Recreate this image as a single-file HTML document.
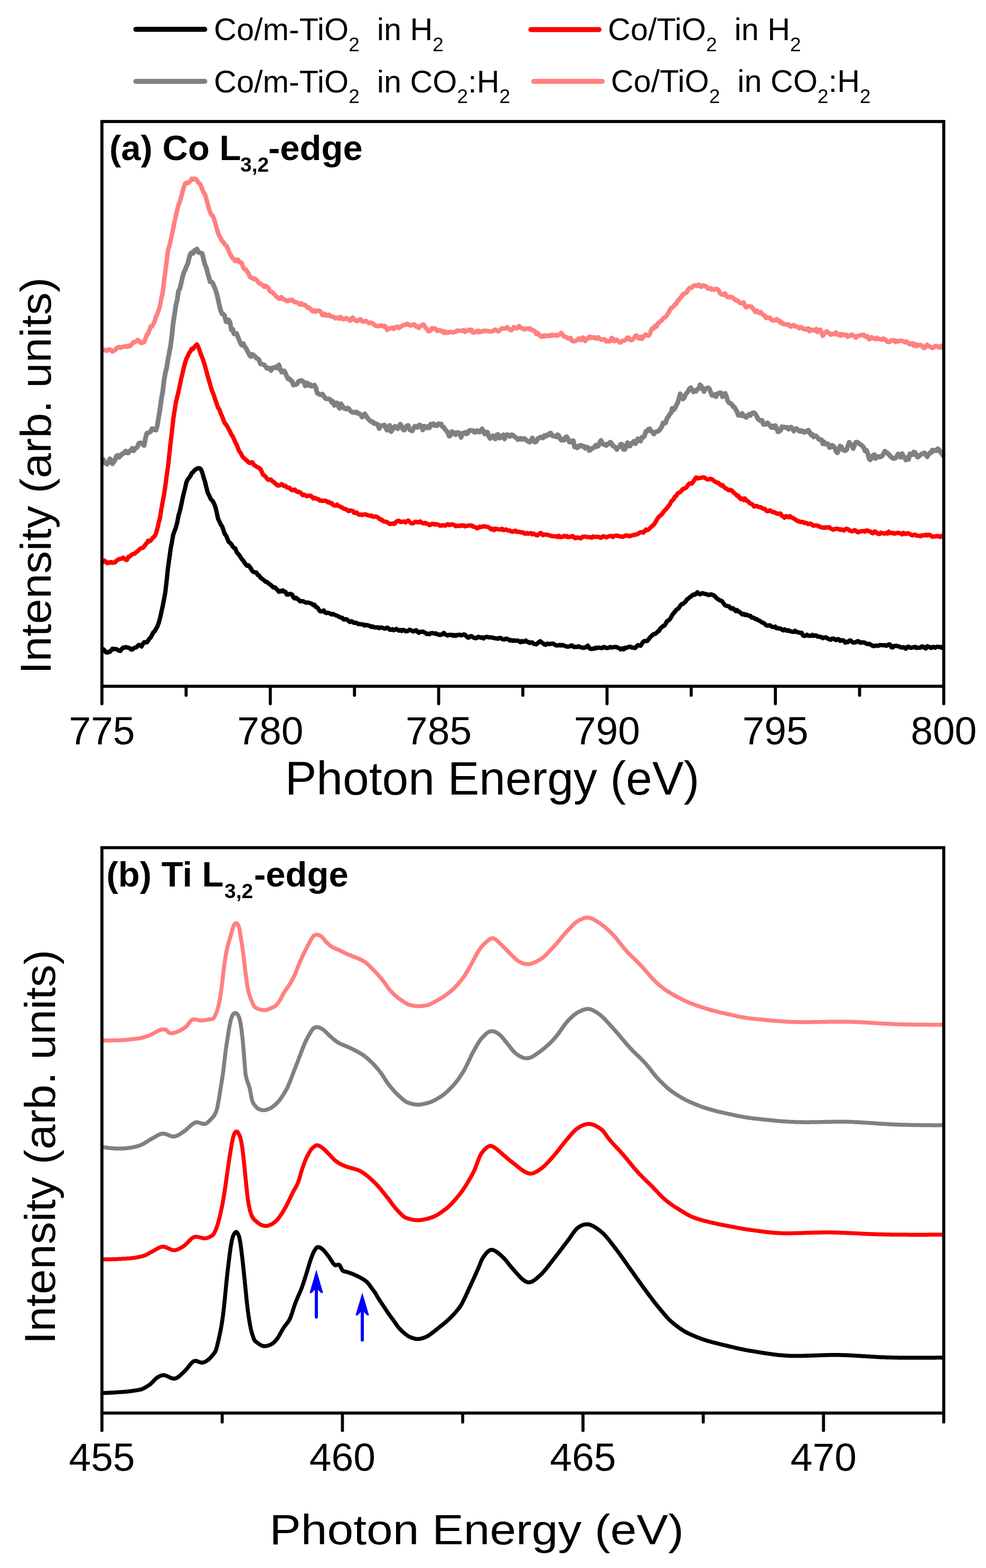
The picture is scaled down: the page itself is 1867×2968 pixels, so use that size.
<!DOCTYPE html>
<html><head><meta charset="utf-8"><title>Co and Ti L-edge XAS spectra</title>
<style>html,body{margin:0;padding:0;background:#fff;} svg{display:block;}</style></head>
<body><svg width="1867" height="2968" viewBox="0 0 1867 2968"><rect x="0" y="0" width="1867" height="2968" fill="#ffffff"/>
<line x1="257.25" y1="55.6" x2="387.75" y2="55.6" stroke="#000000" stroke-width="9.5" stroke-linecap="round"/>
<text x="405" y="76" font-size="59.4" font-family="'Liberation Sans', Arial, sans-serif" xml:space="preserve">Co/m-TiO<tspan font-size="37" dy="20.5">2</tspan><tspan dy="-20.5">  in H</tspan><tspan font-size="37" dy="20.5">2</tspan></text>
<line x1="257.25" y1="154" x2="387.75" y2="154" stroke="#808080" stroke-width="9.5" stroke-linecap="round"/>
<text x="405" y="174.5" font-size="59.4" font-family="'Liberation Sans', Arial, sans-serif" xml:space="preserve">Co/m-TiO<tspan font-size="37" dy="20.5">2</tspan><tspan dy="-20.5">  in CO</tspan><tspan font-size="37" dy="20.5">2</tspan><tspan dy="-20.5">:H</tspan><tspan font-size="37" dy="20.5">2</tspan></text>
<line x1="1005.25" y1="56" x2="1134.25" y2="56" stroke="#ff0000" stroke-width="9.5" stroke-linecap="round"/>
<text x="1151" y="76" font-size="59.4" font-family="'Liberation Sans', Arial, sans-serif" xml:space="preserve">Co/TiO<tspan font-size="37" dy="20.5">2</tspan><tspan dy="-20.5">  in H</tspan><tspan font-size="37" dy="20.5">2</tspan></text>
<line x1="1010.75" y1="154" x2="1140.25" y2="154" stroke="#ff8080" stroke-width="9.5" stroke-linecap="round"/>
<text x="1156.8" y="174" font-size="59.4" font-family="'Liberation Sans', Arial, sans-serif" xml:space="preserve">Co/TiO<tspan font-size="37" dy="20.5">2</tspan><tspan dy="-20.5">  in CO</tspan><tspan font-size="37" dy="20.5">2</tspan><tspan dy="-20.5">:H</tspan><tspan font-size="37" dy="20.5">2</tspan></text>
<path d="M193.0,660.5 L195.5,661.8 L198.0,663.4 L200.5,662.8 L203.0,664.0 L205.5,661.4 L208.0,661.6 L210.5,663.0 L213.0,665.6 L215.5,663.8 L218.0,662.7 L220.5,658.9 L223.0,658.2 L225.5,656.8 L228.0,658.2 L230.5,657.1 L233.0,656.6 L235.5,655.4 L238.0,655.8 L240.5,656.5 L243.0,654.4 L245.5,655.6 L248.0,653.4 L250.5,650.5 L253.0,647.5 L255.5,647.3 L258.0,645.7 L260.5,643.4 L263.0,645.1 L265.5,648.1 L268.0,649.3 L270.5,648.2 L273.0,647.2 L275.5,641.2 L278.0,633.7 L280.5,631.6 L283.0,624.6 L285.5,617.7 L288.0,617.7 L290.5,613.0 L293.0,607.6 L295.5,599.1 L298.0,593.9 L300.5,587.1 L303.0,578.5 L305.5,564.4 L308.0,554.3 L310.5,533.6 L313.0,514.5 L315.5,494.9 L318.0,474.7 L320.5,466.3 L323.0,456.0 L325.5,444.3 L328.0,432.4 L330.5,419.5 L333.0,409.1 L335.5,397.6 L338.0,387.8 L340.5,381.9 L343.0,373.2 L345.5,363.6 L348.0,354.0 L350.5,347.5 L353.0,345.9 L355.5,346.8 L358.0,345.0 L360.5,342.4 L363.0,338.4 L365.5,339.6 L368.0,338.1 L370.5,339.1 L373.0,341.2 L375.5,345.4 L378.0,347.2 L380.5,351.3 L383.0,358.5 L385.5,364.2 L388.0,368.1 L390.5,376.0 L393.0,385.3 L395.5,394.8 L398.0,402.3 L400.5,406.9 L403.0,408.5 L405.5,415.1 L408.0,423.8 L410.5,432.7 L413.0,441.7 L415.5,446.4 L418.0,451.0 L420.5,456.5 L423.0,458.4 L425.5,462.6 L428.0,464.6 L430.5,468.0 L433.0,475.0 L435.5,480.5 L438.0,484.6 L440.5,488.8 L443.0,490.7 L445.5,494.3 L448.0,491.5 L450.5,491.4 L453.0,496.3 L455.5,496.5 L458.0,498.4 L460.5,506.0 L463.0,509.6 L465.5,509.9 L468.0,514.3 L470.5,517.2 L473.0,523.8 L475.5,525.8 L478.0,526.3 L480.5,528.5 L483.0,527.7 L485.5,529.4 L488.0,533.0 L490.5,535.8 L493.0,536.9 L495.5,538.7 L498.0,540.1 L500.5,542.8 L503.0,540.9 L505.5,542.9 L508.0,544.9 L510.5,550.1 L513.0,552.3 L515.5,552.7 L518.0,555.8 L520.5,558.3 L523.0,561.3 L525.5,563.2 L528.0,565.3 L530.5,565.5 L533.0,562.3 L535.5,565.7 L538.0,567.3 L540.5,567.5 L543.0,570.0 L545.5,569.9 L548.0,567.7 L550.5,568.8 L553.0,567.5 L555.5,569.5 L558.0,571.9 L560.5,572.0 L563.0,572.9 L565.5,574.4 L568.0,576.5 L570.5,574.1 L573.0,576.7 L575.5,577.2 L578.0,577.2 L580.5,580.3 L583.0,582.7 L585.5,582.4 L588.0,584.6 L590.5,588.1 L593.0,589.4 L595.5,587.7 L598.0,590.1 L600.5,588.3 L603.0,588.2 L605.5,588.7 L608.0,590.7 L610.5,596.5 L613.0,596.3 L615.5,594.4 L618.0,597.3 L620.5,597.4 L623.0,595.9 L625.5,598.6 L628.0,598.4 L630.5,600.0 L633.0,600.4 L635.5,602.8 L638.0,601.6 L640.5,601.0 L643.0,603.4 L645.5,599.9 L648.0,603.2 L650.5,604.4 L653.0,603.4 L655.5,601.9 L658.0,603.9 L660.5,605.1 L663.0,607.2 L665.5,602.5 L668.0,601.2 L670.5,605.2 L673.0,606.0 L675.5,607.8 L678.0,606.9 L680.5,604.7 L683.0,604.6 L685.5,608.0 L688.0,608.7 L690.5,608.3 L693.0,607.5 L695.5,609.2 L698.0,611.4 L700.5,611.2 L703.0,610.7 L705.5,612.0 L708.0,614.0 L710.5,616.3 L713.0,616.9 L715.5,617.4 L718.0,617.0 L720.5,616.1 L723.0,616.3 L725.5,617.9 L728.0,616.6 L730.5,619.5 L733.0,624.3 L735.5,623.2 L738.0,621.2 L740.5,621.2 L743.0,620.0 L745.5,622.5 L748.0,620.6 L750.5,618.8 L753.0,618.4 L755.5,621.2 L758.0,618.8 L760.5,617.5 L763.0,615.7 L765.5,615.0 L768.0,614.8 L770.5,613.1 L773.0,613.4 L775.5,615.7 L778.0,616.3 L780.5,615.2 L783.0,614.0 L785.5,614.5 L788.0,618.3 L790.5,617.9 L793.0,621.0 L795.5,617.6 L798.0,615.9 L800.5,614.4 L803.0,614.9 L805.5,620.1 L808.0,622.0 L810.5,626.5 L813.0,626.9 L815.5,625.3 L818.0,621.0 L820.5,621.9 L823.0,621.7 L825.5,623.5 L828.0,626.6 L830.5,625.8 L833.0,624.8 L835.5,626.9 L838.0,626.4 L840.5,630.2 L843.0,627.5 L845.5,630.1 L848.0,629.8 L850.5,628.6 L853.0,628.2 L855.5,628.9 L858.0,629.4 L860.5,628.0 L863.0,628.0 L865.5,625.8 L868.0,626.0 L870.5,625.9 L873.0,626.4 L875.5,625.9 L878.0,624.7 L880.5,628.3 L883.0,626.4 L885.5,625.3 L888.0,624.1 L890.5,626.2 L893.0,624.2 L895.5,629.4 L898.0,629.4 L900.5,628.0 L903.0,626.4 L905.5,628.9 L908.0,626.5 L910.5,628.2 L913.0,627.8 L915.5,626.2 L918.0,625.9 L920.5,626.5 L923.0,626.3 L925.5,627.0 L928.0,627.5 L930.5,626.9 L933.0,627.1 L935.5,625.1 L938.0,623.8 L940.5,625.7 L943.0,627.2 L945.5,626.1 L948.0,623.7 L950.5,621.5 L953.0,622.0 L955.5,621.7 L958.0,621.5 L960.5,619.4 L963.0,621.8 L965.5,623.9 L968.0,625.2 L970.5,623.1 L973.0,619.2 L975.5,620.7 L978.0,621.7 L980.5,619.8 L983.0,617.0 L985.5,620.2 L988.0,621.5 L990.5,621.6 L993.0,623.6 L995.5,622.4 L998.0,621.8 L1000.5,622.5 L1003.0,621.6 L1005.5,624.4 L1008.0,624.1 L1010.5,626.2 L1013.0,627.1 L1015.5,632.5 L1018.0,630.2 L1020.5,633.0 L1023.0,636.2 L1025.5,637.3 L1028.0,635.4 L1030.5,637.2 L1033.0,635.1 L1035.5,635.5 L1038.0,636.2 L1040.5,634.7 L1043.0,635.7 L1045.5,633.6 L1048.0,635.1 L1050.5,634.7 L1053.0,633.9 L1055.5,635.5 L1058.0,633.7 L1060.5,632.4 L1063.0,630.3 L1065.5,634.0 L1068.0,637.2 L1070.5,637.3 L1073.0,638.4 L1075.5,640.4 L1078.0,640.7 L1080.5,639.7 L1083.0,645.0 L1085.5,645.9 L1088.0,646.0 L1090.5,644.8 L1093.0,643.6 L1095.5,640.7 L1098.0,642.0 L1100.5,643.6 L1103.0,638.8 L1105.5,640.1 L1108.0,645.6 L1110.5,641.9 L1113.0,641.3 L1115.5,637.6 L1118.0,637.5 L1120.5,639.8 L1123.0,638.8 L1125.5,638.6 L1128.0,641.1 L1130.5,640.8 L1133.0,638.5 L1135.5,641.5 L1138.0,642.7 L1140.5,642.8 L1143.0,642.2 L1145.5,642.2 L1148.0,646.3 L1150.5,645.4 L1153.0,646.4 L1155.5,645.6 L1158.0,639.7 L1160.5,640.9 L1163.0,645.9 L1165.5,643.2 L1168.0,643.0 L1170.5,645.4 L1173.0,648.3 L1175.5,648.0 L1178.0,645.3 L1180.5,645.1 L1183.0,644.3 L1185.5,642.8 L1188.0,639.0 L1190.5,639.4 L1193.0,643.0 L1195.5,644.0 L1198.0,642.2 L1200.5,639.9 L1203.0,635.9 L1205.5,635.2 L1208.0,639.3 L1210.5,640.7 L1213.0,637.5 L1215.5,641.3 L1218.0,638.3 L1220.5,634.7 L1223.0,633.3 L1225.5,634.5 L1228.0,635.5 L1230.5,632.3 L1233.0,625.0 L1235.5,621.1 L1238.0,621.6 L1240.5,617.0 L1243.0,618.3 L1245.5,612.6 L1248.0,610.8 L1250.5,607.9 L1253.0,606.7 L1255.5,603.1 L1258.0,601.2 L1260.5,599.8 L1263.0,596.6 L1265.5,592.6 L1268.0,587.9 L1270.5,583.2 L1273.0,582.2 L1275.5,579.9 L1278.0,575.9 L1280.5,575.4 L1283.0,569.2 L1285.5,568.2 L1288.0,563.6 L1290.5,561.9 L1293.0,557.3 L1295.5,556.1 L1298.0,554.8 L1300.5,553.0 L1303.0,548.3 L1305.5,545.1 L1308.0,544.8 L1310.5,544.1 L1313.0,541.0 L1315.5,540.5 L1318.0,540.2 L1320.5,541.2 L1323.0,538.8 L1325.5,541.6 L1328.0,542.9 L1330.5,540.1 L1333.0,540.5 L1335.5,541.7 L1338.0,542.6 L1340.5,546.3 L1343.0,546.3 L1345.5,545.6 L1348.0,548.2 L1350.5,547.5 L1353.0,548.5 L1355.5,546.8 L1358.0,547.4 L1360.5,548.8 L1363.0,554.6 L1365.5,557.0 L1368.0,556.6 L1370.5,558.1 L1373.0,555.6 L1375.5,560.2 L1378.0,562.4 L1380.5,562.5 L1383.0,561.9 L1385.5,562.6 L1388.0,563.4 L1390.5,566.3 L1393.0,568.4 L1395.5,568.2 L1398.0,570.3 L1400.5,573.3 L1403.0,573.6 L1405.5,574.6 L1408.0,572.5 L1410.5,578.6 L1413.0,581.9 L1415.5,579.9 L1418.0,579.6 L1420.5,580.1 L1423.0,580.4 L1425.5,583.7 L1428.0,587.4 L1430.5,590.6 L1433.0,588.3 L1435.5,590.7 L1438.0,592.6 L1440.5,590.5 L1443.0,594.1 L1445.5,596.3 L1448.0,597.4 L1450.5,601.9 L1453.0,600.7 L1455.5,602.0 L1458.0,601.3 L1460.5,605.2 L1463.0,606.5 L1465.5,606.5 L1468.0,606.3 L1470.5,603.9 L1473.0,607.4 L1475.5,606.5 L1478.0,611.1 L1480.5,610.4 L1483.0,613.5 L1485.5,613.5 L1488.0,613.8 L1490.5,614.4 L1493.0,614.0 L1495.5,617.3 L1498.0,618.4 L1500.5,616.2 L1503.0,615.0 L1505.5,617.8 L1508.0,617.7 L1510.5,619.0 L1513.0,621.1 L1515.5,619.2 L1518.0,619.4 L1520.5,622.5 L1523.0,623.2 L1525.5,622.2 L1528.0,624.0 L1530.5,621.4 L1533.0,626.9 L1535.5,624.0 L1538.0,624.3 L1540.5,625.2 L1543.0,625.8 L1545.5,622.6 L1548.0,628.6 L1550.5,625.8 L1553.0,623.9 L1555.5,629.4 L1558.0,635.9 L1560.5,630.3 L1563.0,629.1 L1565.5,627.2 L1568.0,629.7 L1570.5,630.9 L1573.0,633.5 L1575.5,632.1 L1578.0,632.3 L1580.5,632.6 L1583.0,629.3 L1585.5,632.4 L1588.0,634.5 L1590.5,632.5 L1593.0,635.3 L1595.5,632.9 L1598.0,633.1 L1600.5,634.5 L1603.0,633.8 L1605.5,637.5 L1608.0,635.6 L1610.5,635.0 L1613.0,633.2 L1615.5,635.3 L1618.0,636.3 L1620.5,639.1 L1623.0,636.3 L1625.5,635.7 L1628.0,635.1 L1630.5,634.2 L1633.0,634.3 L1635.5,633.6 L1638.0,637.2 L1640.5,636.2 L1643.0,636.6 L1645.5,642.1 L1648.0,641.0 L1650.5,638.4 L1653.0,640.0 L1655.5,641.0 L1658.0,642.0 L1660.5,639.5 L1663.0,641.4 L1665.5,642.0 L1668.0,642.3 L1670.5,642.9 L1673.0,640.9 L1675.5,642.3 L1678.0,644.5 L1680.5,647.0 L1683.0,647.4 L1685.5,646.7 L1688.0,643.8 L1690.5,644.5 L1693.0,643.9 L1695.5,647.2 L1698.0,645.4 L1700.5,646.5 L1703.0,645.3 L1705.5,645.0 L1708.0,645.5 L1710.5,645.7 L1713.0,647.8 L1715.5,646.5 L1718.0,647.7 L1720.5,650.5 L1723.0,651.8 L1725.5,650.3 L1728.0,649.7 L1730.5,654.5 L1733.0,651.2 L1735.5,655.2 L1738.0,653.6 L1740.5,652.8 L1743.0,652.7 L1745.5,654.7 L1748.0,657.7 L1750.5,658.9 L1753.0,655.0 L1755.5,652.4 L1758.0,655.6 L1760.5,655.6 L1763.0,657.0 L1765.5,658.8 L1768.0,657.8 L1770.5,655.2 L1773.0,655.3 L1775.5,655.9 L1778.0,657.9 L1780.5,655.6 L1783.0,654.4 L1785.0,658.3 L1787.0,660.2" fill="none" stroke="#ff8080" stroke-width="8.5" stroke-linejoin="round" stroke-linecap="butt"/>
<path d="M193.0,872.4 L195.5,869.6 L198.0,875.4 L200.5,877.3 L203.0,878.6 L205.5,874.5 L208.0,868.4 L210.5,870.7 L213.0,877.9 L215.5,874.6 L218.0,870.3 L220.5,863.4 L223.0,861.9 L225.5,865.5 L228.0,863.1 L230.5,859.5 L233.0,858.9 L235.5,856.5 L238.0,853.7 L240.5,857.2 L243.0,857.3 L245.5,853.8 L248.0,852.6 L250.5,848.4 L253.0,853.3 L255.5,849.5 L258.0,848.3 L260.5,845.4 L263.0,838.7 L265.5,838.4 L268.0,838.4 L270.5,841.5 L273.0,843.4 L275.5,829.1 L278.0,820.2 L280.5,819.5 L283.0,818.2 L285.5,816.5 L288.0,811.1 L290.5,812.4 L293.0,813.5 L295.5,814.1 L298.0,805.1 L300.5,789.1 L303.0,774.1 L305.5,755.7 L308.0,742.4 L310.5,720.2 L313.0,706.0 L315.5,696.5 L318.0,681.1 L320.5,667.8 L323.0,654.7 L325.5,635.1 L328.0,610.4 L330.5,595.3 L333.0,577.9 L335.5,568.2 L338.0,550.5 L340.5,546.4 L343.0,536.0 L345.5,525.1 L348.0,516.0 L350.5,510.9 L353.0,504.4 L355.5,499.4 L358.0,488.9 L360.5,480.5 L363.0,478.2 L365.5,479.7 L368.0,473.9 L370.5,475.6 L373.0,471.2 L375.5,477.3 L378.0,478.6 L380.5,478.8 L383.0,480.0 L385.5,491.1 L388.0,500.8 L390.5,505.7 L393.0,516.2 L395.5,524.9 L398.0,533.4 L400.5,533.3 L403.0,536.2 L405.5,542.4 L408.0,548.2 L410.5,556.4 L413.0,567.0 L415.5,578.4 L418.0,588.3 L420.5,594.4 L423.0,594.5 L425.5,598.4 L428.0,608.8 L430.5,609.5 L433.0,605.5 L435.5,609.9 L438.0,624.3 L440.5,622.8 L443.0,632.0 L445.5,631.4 L448.0,631.4 L450.5,637.7 L453.0,643.9 L455.5,649.9 L458.0,653.6 L460.5,650.2 L463.0,655.0 L465.5,658.9 L468.0,663.2 L470.5,668.4 L473.0,673.0 L475.5,675.0 L478.0,670.7 L480.5,672.4 L483.0,674.7 L485.5,678.1 L488.0,678.8 L490.5,681.3 L493.0,688.7 L495.5,688.9 L498.0,690.0 L500.5,690.8 L503.0,693.9 L505.5,697.3 L508.0,697.1 L510.5,696.8 L513.0,701.5 L515.5,696.5 L518.0,695.8 L520.5,696.3 L523.0,694.0 L525.5,696.7 L528.0,690.6 L530.5,698.3 L533.0,704.2 L535.5,703.8 L538.0,701.9 L540.5,706.3 L543.0,712.4 L545.5,717.3 L548.0,716.9 L550.5,720.5 L553.0,721.4 L555.5,729.0 L558.0,727.9 L560.5,727.9 L563.0,726.3 L565.5,721.4 L568.0,721.3 L570.5,720.0 L573.0,721.6 L575.5,723.5 L578.0,730.4 L580.5,724.9 L583.0,725.7 L585.5,730.1 L588.0,728.2 L590.5,731.1 L593.0,729.9 L595.5,728.8 L598.0,733.8 L600.5,744.0 L603.0,745.3 L605.5,746.9 L608.0,747.3 L610.5,746.0 L613.0,749.6 L615.5,753.3 L618.0,755.0 L620.5,754.9 L623.0,755.1 L625.5,756.4 L628.0,761.6 L630.5,759.6 L633.0,767.3 L635.5,765.0 L638.0,762.6 L640.5,768.5 L643.0,773.1 L645.5,764.1 L648.0,767.9 L650.5,772.1 L653.0,773.4 L655.5,774.4 L658.0,772.3 L660.5,773.5 L663.0,777.0 L665.5,779.1 L668.0,780.5 L670.5,780.2 L673.0,781.2 L675.5,779.8 L678.0,782.7 L680.5,783.0 L683.0,785.1 L685.5,789.5 L688.0,787.0 L690.5,783.2 L693.0,786.7 L695.5,790.8 L698.0,793.6 L700.5,796.3 L703.0,798.1 L705.5,798.2 L708.0,801.8 L710.5,801.2 L713.0,802.8 L715.5,803.6 L718.0,811.3 L720.5,806.3 L723.0,805.6 L725.5,805.1 L728.0,804.6 L730.5,810.4 L733.0,814.5 L735.5,807.7 L738.0,805.3 L740.5,817.0 L743.0,813.4 L745.5,808.8 L748.0,806.9 L750.5,809.6 L753.0,811.6 L755.5,806.7 L758.0,803.0 L760.5,807.0 L763.0,813.0 L765.5,814.2 L768.0,808.8 L770.5,806.0 L773.0,805.5 L775.5,813.4 L778.0,814.6 L780.5,815.6 L783.0,810.9 L785.5,806.8 L788.0,808.0 L790.5,809.0 L793.0,804.9 L795.5,804.5 L798.0,807.3 L800.5,813.8 L803.0,806.7 L805.5,807.3 L808.0,809.8 L810.5,807.6 L813.0,810.1 L815.5,802.7 L818.0,804.8 L820.5,801.9 L823.0,805.4 L825.5,804.1 L828.0,805.6 L830.5,801.9 L833.0,803.2 L835.5,802.5 L838.0,808.0 L840.5,808.8 L843.0,813.1 L845.5,815.7 L848.0,819.4 L850.5,825.6 L853.0,824.5 L855.5,817.0 L858.0,818.1 L860.5,819.2 L863.0,823.0 L865.5,818.8 L868.0,819.2 L870.5,819.8 L873.0,827.9 L875.5,820.7 L878.0,819.8 L880.5,818.3 L883.0,821.3 L885.5,820.1 L888.0,815.4 L890.5,814.7 L893.0,815.0 L895.5,815.1 L898.0,817.9 L900.5,818.1 L903.0,815.3 L905.5,817.2 L908.0,817.8 L910.5,814.3 L913.0,811.8 L915.5,817.7 L918.0,821.6 L920.5,817.8 L923.0,818.2 L925.5,825.6 L928.0,830.0 L930.5,828.5 L933.0,824.7 L935.5,826.8 L938.0,831.0 L940.5,823.6 L943.0,822.3 L945.5,829.2 L948.0,828.5 L950.5,826.0 L953.0,823.0 L955.5,830.9 L958.0,823.6 L960.5,822.5 L963.0,824.6 L965.5,826.0 L968.0,823.0 L970.5,823.2 L973.0,825.5 L975.5,827.8 L978.0,828.8 L980.5,832.1 L983.0,831.2 L985.5,829.5 L988.0,831.7 L990.5,830.7 L993.0,830.1 L995.5,832.5 L998.0,834.2 L1000.5,835.8 L1003.0,836.9 L1005.5,834.4 L1008.0,828.9 L1010.5,835.5 L1013.0,837.0 L1015.5,835.9 L1018.0,830.6 L1020.5,829.7 L1023.0,827.5 L1025.5,827.5 L1028.0,829.1 L1030.5,824.8 L1033.0,826.1 L1035.5,823.1 L1038.0,823.8 L1040.5,820.5 L1043.0,819.8 L1045.5,824.4 L1048.0,825.6 L1050.5,825.4 L1053.0,827.1 L1055.5,822.7 L1058.0,824.5 L1060.5,830.5 L1063.0,833.3 L1065.5,831.3 L1068.0,833.4 L1070.5,828.0 L1073.0,826.5 L1075.5,831.0 L1078.0,836.6 L1080.5,836.8 L1083.0,834.5 L1085.5,834.3 L1088.0,846.2 L1090.5,844.1 L1093.0,847.7 L1095.5,845.7 L1098.0,842.9 L1100.5,843.0 L1103.0,844.9 L1105.5,844.6 L1108.0,848.6 L1110.5,846.3 L1113.0,846.8 L1115.5,852.8 L1118.0,852.0 L1120.5,848.7 L1123.0,847.7 L1125.5,846.9 L1128.0,842.5 L1130.5,845.3 L1133.0,844.1 L1135.5,837.7 L1138.0,833.6 L1140.5,838.6 L1143.0,841.4 L1145.5,841.2 L1148.0,843.4 L1150.5,840.3 L1153.0,840.2 L1155.5,836.9 L1158.0,839.2 L1160.5,844.2 L1163.0,844.9 L1165.5,846.9 L1168.0,851.0 L1170.5,846.9 L1173.0,845.6 L1175.5,840.7 L1178.0,841.4 L1180.5,850.6 L1183.0,850.7 L1185.5,846.2 L1188.0,837.9 L1190.5,840.8 L1193.0,844.4 L1195.5,839.3 L1198.0,837.7 L1200.5,835.0 L1203.0,840.0 L1205.5,835.9 L1208.0,830.3 L1210.5,833.4 L1213.0,835.0 L1215.5,827.8 L1218.0,827.6 L1220.5,824.9 L1223.0,816.5 L1225.5,816.3 L1228.0,812.2 L1230.5,811.8 L1233.0,816.2 L1235.5,817.5 L1238.0,821.6 L1240.5,818.2 L1243.0,817.0 L1245.5,816.4 L1248.0,815.1 L1250.5,811.2 L1253.0,808.1 L1255.5,800.6 L1258.0,801.3 L1260.5,800.2 L1263.0,791.7 L1265.5,788.8 L1268.0,784.3 L1270.5,781.7 L1273.0,772.7 L1275.5,775.9 L1278.0,772.8 L1280.5,767.3 L1283.0,762.8 L1285.5,754.9 L1288.0,745.3 L1290.5,752.1 L1293.0,755.3 L1295.5,753.1 L1298.0,747.1 L1300.5,743.4 L1303.0,740.6 L1305.5,735.7 L1308.0,733.8 L1310.5,737.9 L1313.0,741.8 L1315.5,739.1 L1318.0,740.5 L1320.5,736.7 L1323.0,735.8 L1325.5,728.3 L1328.0,731.1 L1330.5,736.4 L1333.0,741.3 L1335.5,735.6 L1338.0,735.1 L1340.5,734.0 L1343.0,735.7 L1345.5,741.8 L1348.0,748.2 L1350.5,748.4 L1353.0,747.0 L1355.5,750.9 L1358.0,745.3 L1360.5,744.8 L1363.0,743.4 L1365.5,743.7 L1368.0,751.1 L1370.5,748.1 L1373.0,744.6 L1375.5,750.4 L1378.0,759.1 L1380.5,762.4 L1383.0,763.6 L1385.5,764.9 L1388.0,769.5 L1390.5,770.4 L1393.0,774.9 L1395.5,779.2 L1398.0,786.2 L1400.5,784.8 L1403.0,786.5 L1405.5,782.5 L1408.0,787.6 L1410.5,787.3 L1413.0,790.3 L1415.5,787.2 L1418.0,784.2 L1420.5,786.5 L1423.0,782.9 L1425.5,781.5 L1428.0,781.5 L1430.5,784.0 L1433.0,788.2 L1435.5,793.1 L1438.0,795.0 L1440.5,796.6 L1443.0,795.6 L1445.5,803.2 L1448.0,802.8 L1450.5,803.0 L1453.0,800.2 L1455.5,802.9 L1458.0,805.7 L1460.5,809.3 L1463.0,806.2 L1465.5,809.7 L1468.0,805.5 L1470.5,810.3 L1473.0,817.5 L1475.5,816.4 L1478.0,814.4 L1480.5,807.6 L1483.0,809.1 L1485.5,808.4 L1488.0,809.5 L1490.5,808.8 L1493.0,812.6 L1495.5,809.9 L1498.0,808.3 L1500.5,810.9 L1503.0,816.0 L1505.5,813.1 L1508.0,811.1 L1510.5,813.2 L1513.0,815.8 L1515.5,816.6 L1518.0,814.9 L1520.5,817.3 L1523.0,818.4 L1525.5,816.3 L1528.0,817.0 L1530.5,814.2 L1533.0,817.9 L1535.5,823.0 L1538.0,821.9 L1540.5,826.9 L1543.0,824.8 L1545.5,825.4 L1548.0,828.2 L1550.5,831.5 L1553.0,832.0 L1555.5,832.2 L1558.0,840.1 L1560.5,836.5 L1563.0,840.7 L1565.5,839.7 L1568.0,840.1 L1570.5,847.1 L1573.0,846.7 L1575.5,842.9 L1578.0,844.4 L1580.5,847.2 L1583.0,854.2 L1585.5,857.3 L1588.0,852.4 L1590.5,844.3 L1593.0,845.7 L1595.5,850.7 L1598.0,852.5 L1600.5,853.2 L1603.0,851.4 L1605.5,843.8 L1608.0,837.2 L1610.5,840.5 L1613.0,842.7 L1615.5,849.2 L1618.0,842.6 L1620.5,837.0 L1623.0,837.1 L1625.5,838.2 L1628.0,841.0 L1630.5,842.0 L1633.0,844.1 L1635.5,847.2 L1638.0,853.7 L1640.5,852.4 L1643.0,857.8 L1645.5,868.1 L1648.0,870.4 L1650.5,866.8 L1653.0,862.1 L1655.5,860.6 L1658.0,867.9 L1660.5,864.2 L1663.0,863.9 L1665.5,865.2 L1668.0,864.4 L1670.5,862.8 L1673.0,859.1 L1675.5,854.0 L1678.0,856.1 L1680.5,857.8 L1683.0,860.0 L1685.5,863.3 L1688.0,865.2 L1690.5,867.6 L1693.0,867.9 L1695.5,867.0 L1698.0,864.1 L1700.5,859.3 L1703.0,863.5 L1705.5,865.6 L1708.0,858.5 L1710.5,863.2 L1713.0,866.8 L1715.5,870.8 L1718.0,865.9 L1720.5,869.5 L1723.0,858.9 L1725.5,859.2 L1728.0,860.4 L1730.5,855.4 L1733.0,856.7 L1735.5,863.1 L1738.0,865.3 L1740.5,862.8 L1743.0,861.2 L1745.5,859.0 L1748.0,859.1 L1750.5,857.2 L1753.0,860.5 L1755.5,864.7 L1758.0,860.4 L1760.5,857.5 L1763.0,857.0 L1765.5,851.8 L1768.0,853.6 L1770.5,852.3 L1773.0,853.1 L1775.5,849.3 L1778.0,851.2 L1780.5,855.3 L1783.0,858.7 L1785.0,860.7 L1787.0,864.8" fill="none" stroke="#808080" stroke-width="9.0" stroke-linejoin="round" stroke-linecap="butt"/>
<path d="M193.0,1065.7 L195.5,1062.9 L198.0,1061.2 L200.5,1063.3 L203.0,1066.1 L205.5,1064.4 L208.0,1065.4 L210.5,1063.8 L213.0,1065.3 L215.5,1064.5 L218.0,1064.7 L220.5,1061.2 L223.0,1059.9 L225.5,1058.0 L228.0,1058.0 L230.5,1057.4 L233.0,1055.4 L235.5,1057.4 L238.0,1059.7 L240.5,1059.8 L243.0,1054.1 L245.5,1053.5 L248.0,1051.1 L250.5,1049.2 L253.0,1048.6 L255.5,1047.6 L258.0,1045.1 L260.5,1043.4 L263.0,1040.9 L265.5,1038.5 L268.0,1037.5 L270.5,1037.0 L273.0,1034.2 L275.5,1030.4 L278.0,1028.2 L280.5,1023.5 L283.0,1024.8 L285.5,1023.1 L288.0,1019.8 L290.5,1016.7 L293.0,1014.7 L295.5,1009.2 L298.0,1000.6 L300.5,989.6 L303.0,979.9 L305.5,963.7 L308.0,949.9 L310.5,936.7 L313.0,920.5 L315.5,901.2 L318.0,884.0 L320.5,861.3 L323.0,838.2 L325.5,817.4 L328.0,793.8 L330.5,777.9 L333.0,761.8 L335.5,751.4 L338.0,741.2 L340.5,729.3 L343.0,717.2 L345.5,707.3 L348.0,695.8 L350.5,686.6 L353.0,679.0 L355.5,674.3 L358.0,668.4 L360.5,664.9 L363.0,660.2 L365.5,660.9 L368.0,656.9 L370.5,654.1 L373.0,651.9 L375.5,657.0 L378.0,663.9 L380.5,671.2 L383.0,677.0 L385.5,684.3 L388.0,692.3 L390.5,701.6 L393.0,710.3 L395.5,719.4 L398.0,728.2 L400.5,736.9 L403.0,743.2 L405.5,749.8 L408.0,757.8 L410.5,764.8 L413.0,772.0 L415.5,774.9 L418.0,782.9 L420.5,788.0 L423.0,794.9 L425.5,800.8 L428.0,803.7 L430.5,807.3 L433.0,812.2 L435.5,816.7 L438.0,822.7 L440.5,825.7 L443.0,831.1 L445.5,836.9 L448.0,841.6 L450.5,848.0 L453.0,854.1 L455.5,857.0 L458.0,862.3 L460.5,865.8 L463.0,868.0 L465.5,870.3 L468.0,872.1 L470.5,875.0 L473.0,876.5 L475.5,875.1 L478.0,875.0 L480.5,879.9 L483.0,881.3 L485.5,883.2 L488.0,884.3 L490.5,885.9 L493.0,887.7 L495.5,892.7 L498.0,898.8 L500.5,900.3 L503.0,902.3 L505.5,906.1 L508.0,908.2 L510.5,907.7 L513.0,907.7 L515.5,910.9 L518.0,911.9 L520.5,914.7 L523.0,916.3 L525.5,919.0 L528.0,918.9 L530.5,918.4 L533.0,916.3 L535.5,918.1 L538.0,920.0 L540.5,919.4 L543.0,922.6 L545.5,923.1 L548.0,923.0 L550.5,926.2 L553.0,927.9 L555.5,927.4 L558.0,926.6 L560.5,929.4 L563.0,931.1 L565.5,930.9 L568.0,931.8 L570.5,934.1 L573.0,937.3 L575.5,936.4 L578.0,937.4 L580.5,939.3 L583.0,938.5 L585.5,938.4 L588.0,938.0 L590.5,940.3 L593.0,943.6 L595.5,942.2 L598.0,943.6 L600.5,944.2 L603.0,945.0 L605.5,947.6 L608.0,947.2 L610.5,948.1 L613.0,948.0 L615.5,947.5 L618.0,948.5 L620.5,950.8 L623.0,950.2 L625.5,952.6 L628.0,952.1 L630.5,955.5 L633.0,956.9 L635.5,956.8 L638.0,955.1 L640.5,957.8 L643.0,958.2 L645.5,960.0 L648.0,960.7 L650.5,962.9 L653.0,963.6 L655.5,964.1 L658.0,966.2 L660.5,967.5 L663.0,965.9 L665.5,966.7 L668.0,967.0 L670.5,970.9 L673.0,970.7 L675.5,970.0 L678.0,973.4 L680.5,974.3 L683.0,973.8 L685.5,974.8 L688.0,973.9 L690.5,973.5 L693.0,973.9 L695.5,975.2 L698.0,975.5 L700.5,976.4 L703.0,975.8 L705.5,977.7 L708.0,978.4 L710.5,977.6 L713.0,978.0 L715.5,979.6 L718.0,981.5 L720.5,983.6 L723.0,983.7 L725.5,986.6 L728.0,987.0 L730.5,987.7 L733.0,988.2 L735.5,990.2 L738.0,991.9 L740.5,991.5 L743.0,990.7 L745.5,991.8 L748.0,990.7 L750.5,987.3 L753.0,986.0 L755.5,985.7 L758.0,988.1 L760.5,987.9 L763.0,987.5 L765.5,987.1 L768.0,988.9 L770.5,986.6 L773.0,985.3 L775.5,987.8 L778.0,990.1 L780.5,990.7 L783.0,990.3 L785.5,987.9 L788.0,987.6 L790.5,988.8 L793.0,988.4 L795.5,987.0 L798.0,989.0 L800.5,990.3 L803.0,990.6 L805.5,989.6 L808.0,991.7 L810.5,991.6 L813.0,994.0 L815.5,993.3 L818.0,991.4 L820.5,991.8 L823.0,993.1 L825.5,992.0 L828.0,992.6 L830.5,993.4 L833.0,995.0 L835.5,995.0 L838.0,994.0 L840.5,994.4 L843.0,995.0 L845.5,993.5 L848.0,992.1 L850.5,993.8 L853.0,993.4 L855.5,992.4 L858.0,992.9 L860.5,994.0 L863.0,996.1 L865.5,995.1 L868.0,995.2 L870.5,995.9 L873.0,994.2 L875.5,995.2 L878.0,994.3 L880.5,996.3 L883.0,995.8 L885.5,995.2 L888.0,994.6 L890.5,994.5 L893.0,994.7 L895.5,996.7 L898.0,996.9 L900.5,998.1 L903.0,1000.0 L905.5,999.3 L908.0,996.9 L910.5,997.7 L913.0,997.0 L915.5,996.1 L918.0,996.7 L920.5,996.8 L923.0,997.0 L925.5,998.4 L928.0,1000.0 L930.5,1002.3 L933.0,1001.0 L935.5,1003.4 L938.0,1000.6 L940.5,1001.1 L943.0,1001.9 L945.5,1002.2 L948.0,1002.5 L950.5,1000.7 L953.0,1003.4 L955.5,1003.0 L958.0,1002.2 L960.5,1003.4 L963.0,1004.5 L965.5,1004.2 L968.0,1006.1 L970.5,1006.6 L973.0,1005.6 L975.5,1004.5 L978.0,1006.6 L980.5,1006.4 L983.0,1006.7 L985.5,1007.4 L988.0,1007.9 L990.5,1007.7 L993.0,1010.0 L995.5,1010.3 L998.0,1008.8 L1000.5,1010.3 L1003.0,1009.7 L1005.5,1009.1 L1008.0,1011.4 L1010.5,1010.1 L1013.0,1011.6 L1015.5,1013.1 L1018.0,1013.4 L1020.5,1011.1 L1023.0,1008.8 L1025.5,1009.7 L1028.0,1013.0 L1030.5,1012.0 L1033.0,1011.7 L1035.5,1012.1 L1038.0,1012.8 L1040.5,1013.3 L1043.0,1014.1 L1045.5,1015.3 L1048.0,1014.8 L1050.5,1015.3 L1053.0,1015.1 L1055.5,1016.4 L1058.0,1014.2 L1060.5,1016.7 L1063.0,1016.4 L1065.5,1016.0 L1068.0,1014.3 L1070.5,1015.6 L1073.0,1014.7 L1075.5,1016.8 L1078.0,1016.2 L1080.5,1016.2 L1083.0,1014.7 L1085.5,1015.3 L1088.0,1018.4 L1090.5,1018.6 L1093.0,1017.1 L1095.5,1018.0 L1098.0,1018.7 L1100.5,1018.9 L1103.0,1015.9 L1105.5,1015.8 L1108.0,1015.5 L1110.5,1016.4 L1113.0,1016.3 L1115.5,1017.0 L1118.0,1017.0 L1120.5,1017.8 L1123.0,1015.3 L1125.5,1016.1 L1128.0,1016.5 L1130.5,1016.0 L1133.0,1016.0 L1135.5,1017.3 L1138.0,1018.0 L1140.5,1016.1 L1143.0,1015.0 L1145.5,1016.2 L1148.0,1017.2 L1150.5,1016.0 L1153.0,1014.9 L1155.5,1014.9 L1158.0,1014.4 L1160.5,1016.5 L1163.0,1014.6 L1165.5,1013.8 L1168.0,1013.8 L1170.5,1014.5 L1173.0,1015.2 L1175.5,1015.3 L1178.0,1015.9 L1180.5,1015.8 L1183.0,1014.3 L1185.5,1013.2 L1188.0,1014.4 L1190.5,1014.1 L1193.0,1015.1 L1195.5,1013.9 L1198.0,1012.8 L1200.5,1013.0 L1203.0,1012.1 L1205.5,1011.4 L1208.0,1010.7 L1210.5,1008.6 L1213.0,1007.5 L1215.5,1007.0 L1218.0,1008.3 L1220.5,1005.8 L1223.0,1002.3 L1225.5,1003.7 L1228.0,1002.3 L1230.5,1000.0 L1233.0,997.2 L1235.5,995.3 L1238.0,993.0 L1240.5,989.6 L1243.0,985.2 L1245.5,980.6 L1248.0,978.0 L1250.5,975.6 L1253.0,973.8 L1255.5,970.1 L1258.0,966.9 L1260.5,964.5 L1263.0,961.5 L1265.5,958.3 L1268.0,955.2 L1270.5,950.0 L1273.0,947.2 L1275.5,944.7 L1278.0,940.0 L1280.5,938.8 L1283.0,934.2 L1285.5,932.6 L1288.0,931.5 L1290.5,928.9 L1293.0,925.5 L1295.5,925.0 L1298.0,924.0 L1300.5,921.6 L1303.0,917.6 L1305.5,915.1 L1308.0,915.5 L1310.5,915.0 L1313.0,911.2 L1315.5,907.1 L1318.0,903.8 L1320.5,905.7 L1323.0,905.1 L1325.5,904.8 L1328.0,904.4 L1330.5,903.6 L1333.0,903.6 L1335.5,905.0 L1338.0,906.7 L1340.5,907.7 L1343.0,907.0 L1345.5,906.2 L1348.0,907.2 L1350.5,908.9 L1353.0,911.4 L1355.5,912.2 L1358.0,914.0 L1360.5,913.8 L1363.0,917.1 L1365.5,919.0 L1368.0,918.2 L1370.5,921.5 L1373.0,923.6 L1375.5,925.2 L1378.0,926.8 L1380.5,928.2 L1383.0,927.4 L1385.5,928.3 L1388.0,931.2 L1390.5,933.3 L1393.0,935.4 L1395.5,938.6 L1398.0,938.4 L1400.5,942.6 L1403.0,944.9 L1405.5,943.4 L1408.0,946.3 L1410.5,943.6 L1413.0,947.7 L1415.5,948.1 L1418.0,950.6 L1420.5,953.2 L1423.0,953.7 L1425.5,955.8 L1428.0,958.9 L1430.5,958.0 L1433.0,957.6 L1435.5,959.3 L1438.0,959.8 L1440.5,960.0 L1443.0,962.0 L1445.5,962.7 L1448.0,963.0 L1450.5,966.2 L1453.0,967.7 L1455.5,967.2 L1458.0,965.8 L1460.5,967.9 L1463.0,969.3 L1465.5,969.2 L1468.0,970.3 L1470.5,972.0 L1473.0,972.7 L1475.5,972.0 L1478.0,972.2 L1480.5,976.3 L1483.0,977.8 L1485.5,980.0 L1488.0,977.1 L1490.5,977.3 L1493.0,979.0 L1495.5,977.0 L1498.0,979.4 L1500.5,979.9 L1503.0,981.3 L1505.5,983.3 L1508.0,984.5 L1510.5,986.6 L1513.0,986.6 L1515.5,988.2 L1518.0,987.8 L1520.5,988.0 L1523.0,989.9 L1525.5,989.5 L1528.0,990.7 L1530.5,992.2 L1533.0,991.2 L1535.5,991.3 L1538.0,993.6 L1540.5,995.2 L1543.0,994.5 L1545.5,994.5 L1548.0,994.8 L1550.5,996.6 L1553.0,996.9 L1555.5,998.5 L1558.0,998.6 L1560.5,999.1 L1563.0,998.1 L1565.5,998.9 L1568.0,998.1 L1570.5,998.2 L1573.0,1000.3 L1575.5,1001.7 L1578.0,1002.6 L1580.5,1001.6 L1583.0,1000.5 L1585.5,1001.2 L1588.0,1001.3 L1590.5,1002.8 L1593.0,1001.9 L1595.5,1002.8 L1598.0,1004.2 L1600.5,1001.8 L1603.0,1000.8 L1605.5,1001.7 L1608.0,1004.1 L1610.5,1004.6 L1613.0,1005.6 L1615.5,1005.3 L1618.0,1003.4 L1620.5,1004.3 L1623.0,1006.8 L1625.5,1007.6 L1628.0,1006.0 L1630.5,1005.8 L1633.0,1005.0 L1635.5,1005.4 L1638.0,1006.3 L1640.5,1004.0 L1643.0,1004.4 L1645.5,1005.5 L1648.0,1006.0 L1650.5,1008.5 L1653.0,1009.5 L1655.5,1006.2 L1658.0,1006.3 L1660.5,1009.5 L1663.0,1010.2 L1665.5,1010.8 L1668.0,1008.1 L1670.5,1009.3 L1673.0,1009.8 L1675.5,1009.9 L1678.0,1008.9 L1680.5,1010.0 L1683.0,1006.3 L1685.5,1008.8 L1688.0,1008.8 L1690.5,1008.6 L1693.0,1010.2 L1695.5,1009.5 L1698.0,1008.8 L1700.5,1008.7 L1703.0,1008.9 L1705.5,1010.0 L1708.0,1011.5 L1710.5,1008.6 L1713.0,1010.5 L1715.5,1010.7 L1718.0,1009.4 L1720.5,1009.6 L1723.0,1011.1 L1725.5,1012.4 L1728.0,1013.4 L1730.5,1012.5 L1733.0,1011.9 L1735.5,1013.8 L1738.0,1014.0 L1740.5,1014.2 L1743.0,1015.1 L1745.5,1013.4 L1748.0,1013.4 L1750.5,1013.3 L1753.0,1012.1 L1755.5,1013.5 L1758.0,1012.1 L1760.5,1012.8 L1763.0,1014.0 L1765.5,1016.1 L1768.0,1015.4 L1770.5,1015.4 L1773.0,1014.8 L1775.5,1014.6 L1778.0,1015.4 L1780.5,1016.4 L1783.0,1014.3 L1785.0,1014.0 L1787.0,1015.4" fill="none" stroke="#ff0000" stroke-width="8.2" stroke-linejoin="round" stroke-linecap="butt"/>
<path d="M193.0,1227.5 L195.5,1229.0 L198.0,1231.0 L200.5,1234.7 L203.0,1235.3 L205.5,1233.9 L208.0,1233.8 L210.5,1230.8 L213.0,1227.8 L215.5,1228.8 L218.0,1228.4 L220.5,1228.7 L223.0,1230.3 L225.5,1231.7 L228.0,1232.1 L230.5,1228.3 L233.0,1225.8 L235.5,1226.0 L238.0,1224.8 L240.5,1225.5 L243.0,1226.0 L245.5,1226.8 L248.0,1229.4 L250.5,1229.5 L253.0,1226.9 L255.5,1226.1 L258.0,1225.5 L260.5,1222.9 L263.0,1220.8 L265.5,1221.3 L268.0,1223.6 L270.5,1219.1 L273.0,1215.5 L275.5,1215.7 L278.0,1216.0 L280.5,1212.6 L283.0,1208.8 L285.5,1206.3 L288.0,1201.5 L290.5,1196.8 L293.0,1194.8 L295.5,1190.0 L298.0,1185.8 L300.5,1179.1 L303.0,1170.0 L305.5,1159.0 L308.0,1147.6 L310.5,1134.7 L313.0,1120.9 L315.5,1099.8 L318.0,1075.4 L320.5,1057.8 L323.0,1039.6 L325.5,1026.3 L328.0,1012.1 L330.5,1005.3 L333.0,998.4 L335.5,989.1 L338.0,976.2 L340.5,967.6 L343.0,956.7 L345.5,944.4 L348.0,933.5 L350.5,923.7 L353.0,912.8 L355.5,907.4 L358.0,904.2 L360.5,901.0 L363.0,895.6 L365.5,893.8 L368.0,890.6 L370.5,888.7 L373.0,887.0 L375.5,886.3 L378.0,886.4 L380.5,888.6 L383.0,894.3 L385.5,903.6 L388.0,911.3 L390.5,921.4 L393.0,931.6 L395.5,936.7 L398.0,942.5 L400.5,946.4 L403.0,948.8 L405.5,953.7 L408.0,960.0 L410.5,970.6 L413.0,982.3 L415.5,986.9 L418.0,992.8 L420.5,996.6 L423.0,1003.0 L425.5,1010.7 L428.0,1013.6 L430.5,1019.5 L433.0,1025.7 L435.5,1027.5 L438.0,1029.9 L440.5,1034.3 L443.0,1037.0 L445.5,1037.8 L448.0,1045.0 L450.5,1047.8 L453.0,1050.7 L455.5,1054.7 L458.0,1058.6 L460.5,1060.9 L463.0,1065.1 L465.5,1068.5 L468.0,1071.1 L470.5,1070.0 L473.0,1073.0 L475.5,1077.0 L478.0,1081.1 L480.5,1083.0 L483.0,1083.3 L485.5,1083.5 L488.0,1088.3 L490.5,1089.2 L493.0,1093.2 L495.5,1094.8 L498.0,1096.9 L500.5,1098.9 L503.0,1101.2 L505.5,1101.7 L508.0,1103.8 L510.5,1105.9 L513.0,1107.5 L515.5,1109.9 L518.0,1112.1 L520.5,1111.7 L523.0,1114.3 L525.5,1116.9 L528.0,1120.1 L530.5,1118.3 L533.0,1119.4 L535.5,1117.5 L538.0,1120.0 L540.5,1120.2 L543.0,1125.5 L545.5,1125.7 L548.0,1124.2 L550.5,1124.4 L553.0,1125.3 L555.5,1130.8 L558.0,1132.7 L560.5,1131.5 L563.0,1133.5 L565.5,1135.2 L568.0,1138.1 L570.5,1138.1 L573.0,1137.8 L575.5,1138.8 L578.0,1140.4 L580.5,1140.7 L583.0,1140.4 L585.5,1141.1 L588.0,1142.0 L590.5,1142.9 L593.0,1145.3 L595.5,1144.6 L598.0,1148.9 L600.5,1149.7 L603.0,1152.7 L605.5,1156.6 L608.0,1157.5 L610.5,1157.1 L613.0,1155.5 L615.5,1159.2 L618.0,1160.5 L620.5,1159.8 L623.0,1160.5 L625.5,1161.5 L628.0,1163.1 L630.5,1162.2 L633.0,1163.4 L635.5,1164.6 L638.0,1165.3 L640.5,1166.6 L643.0,1168.1 L645.5,1169.0 L648.0,1169.3 L650.5,1172.6 L653.0,1172.6 L655.5,1172.0 L658.0,1173.3 L660.5,1175.9 L663.0,1177.4 L665.5,1175.8 L668.0,1177.3 L670.5,1179.0 L673.0,1178.6 L675.5,1179.3 L678.0,1181.1 L680.5,1181.1 L683.0,1181.5 L685.5,1181.8 L688.0,1182.0 L690.5,1184.0 L693.0,1183.0 L695.5,1183.4 L698.0,1184.1 L700.5,1184.8 L703.0,1186.7 L705.5,1185.7 L708.0,1187.3 L710.5,1187.6 L713.0,1187.6 L715.5,1187.3 L718.0,1189.0 L720.5,1187.8 L723.0,1187.9 L725.5,1188.8 L728.0,1189.9 L730.5,1189.5 L733.0,1188.0 L735.5,1189.2 L738.0,1192.1 L740.5,1192.1 L743.0,1191.0 L745.5,1192.9 L748.0,1191.6 L750.5,1190.5 L753.0,1192.6 L755.5,1193.7 L758.0,1192.3 L760.5,1194.4 L763.0,1192.4 L765.5,1192.9 L768.0,1194.8 L770.5,1194.8 L773.0,1193.9 L775.5,1191.9 L778.0,1193.0 L780.5,1194.4 L783.0,1195.3 L785.5,1193.7 L788.0,1193.0 L790.5,1195.6 L793.0,1197.8 L795.5,1195.9 L798.0,1196.0 L800.5,1195.4 L803.0,1196.7 L805.5,1197.9 L808.0,1200.1 L810.5,1199.5 L813.0,1200.5 L815.5,1198.6 L818.0,1198.3 L820.5,1198.6 L823.0,1199.5 L825.5,1198.8 L828.0,1200.6 L830.5,1200.9 L833.0,1201.9 L835.5,1201.3 L838.0,1200.0 L840.5,1198.0 L843.0,1200.9 L845.5,1201.9 L848.0,1202.8 L850.5,1201.6 L853.0,1202.1 L855.5,1201.5 L858.0,1203.3 L860.5,1202.0 L863.0,1203.6 L865.5,1201.8 L868.0,1201.9 L870.5,1201.4 L873.0,1202.7 L875.5,1202.0 L878.0,1200.9 L880.5,1201.2 L883.0,1204.4 L885.5,1206.6 L888.0,1206.9 L890.5,1204.5 L893.0,1204.1 L895.5,1206.2 L898.0,1207.4 L900.5,1208.2 L903.0,1207.3 L905.5,1205.3 L908.0,1206.1 L910.5,1207.1 L913.0,1206.3 L915.5,1208.5 L918.0,1206.6 L920.5,1205.5 L923.0,1205.5 L925.5,1206.5 L928.0,1206.5 L930.5,1206.6 L933.0,1207.1 L935.5,1207.7 L938.0,1208.3 L940.5,1208.4 L943.0,1209.0 L945.5,1207.7 L948.0,1207.6 L950.5,1209.5 L953.0,1210.2 L955.5,1210.3 L958.0,1208.8 L960.5,1209.5 L963.0,1210.3 L965.5,1212.5 L968.0,1211.7 L970.5,1212.9 L973.0,1212.0 L975.5,1212.9 L978.0,1212.6 L980.5,1212.5 L983.0,1213.8 L985.5,1215.5 L988.0,1213.5 L990.5,1215.0 L993.0,1214.0 L995.5,1212.4 L998.0,1215.1 L1000.5,1215.0 L1003.0,1217.1 L1005.5,1216.2 L1008.0,1216.2 L1010.5,1218.7 L1013.0,1219.3 L1015.5,1219.6 L1018.0,1217.5 L1020.5,1215.3 L1023.0,1213.8 L1025.5,1215.9 L1028.0,1217.5 L1030.5,1219.7 L1033.0,1220.6 L1035.5,1218.4 L1038.0,1218.8 L1040.5,1219.3 L1043.0,1218.6 L1045.5,1218.2 L1048.0,1218.5 L1050.5,1220.3 L1053.0,1221.7 L1055.5,1221.7 L1058.0,1221.7 L1060.5,1220.6 L1063.0,1221.8 L1065.5,1220.9 L1068.0,1222.0 L1070.5,1222.9 L1073.0,1223.8 L1075.5,1223.9 L1078.0,1223.6 L1080.5,1222.3 L1083.0,1221.6 L1085.5,1224.2 L1088.0,1224.8 L1090.5,1224.3 L1093.0,1224.6 L1095.5,1223.4 L1098.0,1224.7 L1100.5,1225.2 L1103.0,1226.3 L1105.5,1225.8 L1108.0,1225.7 L1110.5,1223.8 L1113.0,1222.1 L1115.5,1226.3 L1118.0,1228.2 L1120.5,1228.4 L1123.0,1227.6 L1125.5,1227.9 L1128.0,1226.1 L1130.5,1226.6 L1133.0,1225.8 L1135.5,1226.0 L1138.0,1226.6 L1140.5,1226.6 L1143.0,1224.6 L1145.5,1225.3 L1148.0,1226.6 L1150.5,1226.5 L1153.0,1225.8 L1155.5,1224.7 L1158.0,1225.6 L1160.5,1225.3 L1163.0,1224.8 L1165.5,1224.6 L1168.0,1225.1 L1170.5,1226.6 L1173.0,1227.3 L1175.5,1229.2 L1178.0,1227.5 L1180.5,1229.2 L1183.0,1226.2 L1185.5,1226.8 L1188.0,1225.3 L1190.5,1224.6 L1193.0,1223.9 L1195.5,1225.6 L1198.0,1225.7 L1200.5,1226.3 L1203.0,1226.5 L1205.5,1223.2 L1208.0,1221.2 L1210.5,1221.7 L1213.0,1222.4 L1215.5,1218.3 L1218.0,1214.7 L1220.5,1213.4 L1223.0,1213.3 L1225.5,1213.3 L1228.0,1210.5 L1230.5,1206.9 L1233.0,1204.5 L1235.5,1201.9 L1238.0,1200.2 L1240.5,1199.8 L1243.0,1198.0 L1245.5,1195.4 L1248.0,1194.1 L1250.5,1189.6 L1253.0,1187.3 L1255.5,1185.0 L1258.0,1184.4 L1260.5,1180.5 L1263.0,1175.7 L1265.5,1174.5 L1268.0,1172.6 L1270.5,1168.6 L1273.0,1164.0 L1275.5,1160.5 L1278.0,1158.0 L1280.5,1154.5 L1283.0,1152.8 L1285.5,1150.7 L1288.0,1146.7 L1290.5,1143.6 L1293.0,1143.3 L1295.5,1141.0 L1298.0,1139.1 L1300.5,1134.9 L1303.0,1133.3 L1305.5,1130.9 L1308.0,1129.3 L1310.5,1127.1 L1313.0,1125.3 L1315.5,1125.8 L1318.0,1123.9 L1320.5,1121.0 L1323.0,1123.8 L1325.5,1125.0 L1328.0,1123.4 L1330.5,1122.7 L1333.0,1123.7 L1335.5,1124.4 L1338.0,1124.5 L1340.5,1126.2 L1343.0,1126.2 L1345.5,1125.1 L1348.0,1125.4 L1350.5,1126.5 L1353.0,1127.7 L1355.5,1130.9 L1358.0,1133.1 L1360.5,1134.7 L1363.0,1136.4 L1365.5,1137.0 L1368.0,1139.0 L1370.5,1142.7 L1373.0,1145.9 L1375.5,1146.7 L1378.0,1147.3 L1380.5,1147.6 L1383.0,1150.9 L1385.5,1152.4 L1388.0,1151.2 L1390.5,1154.2 L1393.0,1156.7 L1395.5,1154.7 L1398.0,1157.5 L1400.5,1158.3 L1403.0,1160.7 L1405.5,1163.1 L1408.0,1162.0 L1410.5,1164.2 L1413.0,1163.2 L1415.5,1164.6 L1418.0,1165.4 L1420.5,1165.5 L1423.0,1169.0 L1425.5,1169.1 L1428.0,1169.7 L1430.5,1172.0 L1433.0,1172.2 L1435.5,1174.0 L1438.0,1175.0 L1440.5,1176.4 L1443.0,1178.4 L1445.5,1178.9 L1448.0,1180.9 L1450.5,1183.4 L1453.0,1184.3 L1455.5,1183.8 L1458.0,1183.6 L1460.5,1185.6 L1463.0,1187.0 L1465.5,1187.0 L1468.0,1186.0 L1470.5,1189.2 L1473.0,1189.1 L1475.5,1189.7 L1478.0,1189.8 L1480.5,1191.8 L1483.0,1193.2 L1485.5,1191.3 L1488.0,1193.0 L1490.5,1194.0 L1493.0,1192.8 L1495.5,1194.9 L1498.0,1195.2 L1500.5,1195.7 L1503.0,1196.1 L1505.5,1194.0 L1508.0,1196.3 L1510.5,1196.4 L1513.0,1197.5 L1515.5,1197.7 L1518.0,1197.8 L1520.5,1202.9 L1523.0,1203.7 L1525.5,1203.2 L1528.0,1201.4 L1530.5,1203.3 L1533.0,1203.5 L1535.5,1203.5 L1538.0,1201.8 L1540.5,1203.7 L1543.0,1202.9 L1545.5,1202.9 L1548.0,1205.0 L1550.5,1204.7 L1553.0,1205.9 L1555.5,1205.8 L1558.0,1208.0 L1560.5,1206.9 L1563.0,1206.4 L1565.5,1207.4 L1568.0,1209.1 L1570.5,1210.2 L1573.0,1211.0 L1575.5,1208.8 L1578.0,1208.6 L1580.5,1210.2 L1583.0,1211.6 L1585.5,1209.9 L1588.0,1209.8 L1590.5,1213.1 L1593.0,1212.1 L1595.5,1211.9 L1598.0,1212.7 L1600.5,1216.5 L1603.0,1215.1 L1605.5,1215.5 L1608.0,1212.6 L1610.5,1212.3 L1613.0,1214.4 L1615.5,1216.3 L1618.0,1216.2 L1620.5,1215.7 L1623.0,1214.0 L1625.5,1213.6 L1628.0,1216.2 L1630.5,1216.6 L1633.0,1215.7 L1635.5,1216.1 L1638.0,1216.7 L1640.5,1218.3 L1643.0,1219.1 L1645.5,1218.7 L1648.0,1219.8 L1650.5,1221.3 L1653.0,1222.9 L1655.5,1222.9 L1658.0,1222.0 L1660.5,1222.1 L1663.0,1222.5 L1665.5,1221.2 L1668.0,1221.1 L1670.5,1221.2 L1673.0,1221.5 L1675.5,1221.0 L1678.0,1222.5 L1680.5,1221.5 L1683.0,1219.7 L1685.5,1220.0 L1688.0,1225.2 L1690.5,1225.5 L1693.0,1222.6 L1695.5,1222.6 L1698.0,1222.4 L1700.5,1223.5 L1703.0,1223.6 L1705.5,1225.5 L1708.0,1225.6 L1710.5,1224.8 L1713.0,1226.4 L1715.5,1227.8 L1718.0,1224.5 L1720.5,1224.1 L1723.0,1225.8 L1725.5,1226.1 L1728.0,1225.4 L1730.5,1225.2 L1733.0,1224.4 L1735.5,1226.5 L1738.0,1226.0 L1740.5,1226.0 L1743.0,1226.0 L1745.5,1223.6 L1748.0,1224.0 L1750.5,1226.1 L1753.0,1227.5 L1755.5,1223.3 L1758.0,1224.0 L1760.5,1224.9 L1763.0,1226.3 L1765.5,1224.9 L1768.0,1224.5 L1770.5,1226.1 L1773.0,1224.6 L1775.5,1224.3 L1778.0,1224.5 L1780.5,1224.9 L1783.0,1226.1 L1785.0,1224.0 L1787.0,1223.4" fill="none" stroke="#000000" stroke-width="8.2" stroke-linejoin="round" stroke-linecap="butt"/>
<rect x="193" y="230" width="1594" height="1069" fill="none" stroke="#000" stroke-width="5.8"/>
<line x1="193.0" y1="1299" x2="193.0" y2="1332" stroke="#000" stroke-width="5.8" stroke-linecap="round"/>
<text x="193.0" y="1409" font-size="75" text-anchor="middle" font-family="'Liberation Sans', Arial, sans-serif">775</text>
<line x1="352.4" y1="1299" x2="352.4" y2="1316" stroke="#000" stroke-width="5.8" stroke-linecap="round"/>
<line x1="511.8" y1="1299" x2="511.8" y2="1332" stroke="#000" stroke-width="5.8" stroke-linecap="round"/>
<text x="511.8" y="1409" font-size="75" text-anchor="middle" font-family="'Liberation Sans', Arial, sans-serif">780</text>
<line x1="671.2" y1="1299" x2="671.2" y2="1316" stroke="#000" stroke-width="5.8" stroke-linecap="round"/>
<line x1="830.6" y1="1299" x2="830.6" y2="1332" stroke="#000" stroke-width="5.8" stroke-linecap="round"/>
<text x="830.6" y="1409" font-size="75" text-anchor="middle" font-family="'Liberation Sans', Arial, sans-serif">785</text>
<line x1="990.0" y1="1299" x2="990.0" y2="1316" stroke="#000" stroke-width="5.8" stroke-linecap="round"/>
<line x1="1149.4" y1="1299" x2="1149.4" y2="1332" stroke="#000" stroke-width="5.8" stroke-linecap="round"/>
<text x="1149.4" y="1409" font-size="75" text-anchor="middle" font-family="'Liberation Sans', Arial, sans-serif">790</text>
<line x1="1308.8" y1="1299" x2="1308.8" y2="1316" stroke="#000" stroke-width="5.8" stroke-linecap="round"/>
<line x1="1468.2" y1="1299" x2="1468.2" y2="1332" stroke="#000" stroke-width="5.8" stroke-linecap="round"/>
<text x="1468.2" y="1409" font-size="75" text-anchor="middle" font-family="'Liberation Sans', Arial, sans-serif">795</text>
<line x1="1627.6" y1="1299" x2="1627.6" y2="1316" stroke="#000" stroke-width="5.8" stroke-linecap="round"/>
<line x1="1787.0" y1="1299" x2="1787.0" y2="1332" stroke="#000" stroke-width="5.8" stroke-linecap="round"/>
<text x="1787.0" y="1409" font-size="75" text-anchor="middle" font-family="'Liberation Sans', Arial, sans-serif">800</text>
<path d="M193.0,1969.3 L195.0,1969.3 L197.0,1969.4 L199.0,1969.4 L201.0,1969.4 L203.0,1969.4 L205.0,1969.4 L207.0,1969.4 L209.0,1969.4 L211.0,1969.3 L213.0,1969.3 L215.0,1969.3 L217.0,1969.2 L219.0,1969.2 L221.0,1969.1 L223.0,1969.0 L225.0,1969.0 L227.0,1968.9 L229.0,1968.8 L231.0,1968.8 L233.0,1968.7 L235.0,1968.6 L237.0,1968.5 L239.0,1968.3 L241.0,1968.2 L243.0,1968.0 L245.0,1967.8 L247.0,1967.5 L249.0,1967.3 L251.0,1967.1 L253.0,1966.8 L255.0,1966.5 L257.0,1966.2 L259.0,1966.0 L261.0,1965.7 L263.0,1965.4 L265.0,1965.1 L267.0,1964.7 L269.0,1964.3 L271.0,1963.7 L273.0,1963.2 L275.0,1962.6 L277.0,1961.9 L279.0,1961.2 L281.0,1960.5 L283.0,1959.8 L285.0,1959.0 L287.0,1958.0 L289.0,1957.0 L291.0,1955.9 L293.0,1954.7 L295.0,1953.6 L297.0,1952.5 L299.0,1951.4 L301.0,1950.4 L303.0,1949.6 L305.0,1948.9 L307.0,1948.5 L309.0,1948.4 L311.0,1948.6 L313.0,1948.9 L315.0,1949.6 L317.0,1951.6 L319.0,1954.0 L321.0,1955.4 L323.0,1955.7 L325.0,1955.7 L327.0,1955.6 L329.0,1955.2 L331.0,1954.7 L333.0,1954.0 L335.0,1953.3 L337.0,1952.5 L339.0,1951.6 L341.0,1950.6 L343.0,1949.5 L345.0,1948.3 L347.0,1947.0 L349.0,1945.7 L351.0,1944.2 L353.0,1942.5 L355.0,1940.2 L357.0,1937.7 L359.0,1935.1 L361.0,1932.7 L363.0,1930.9 L365.0,1929.8 L367.0,1929.5 L369.0,1929.6 L371.0,1929.9 L373.0,1930.4 L375.0,1930.9 L377.0,1931.3 L379.0,1931.6 L381.0,1931.8 L383.0,1931.7 L385.0,1931.4 L387.0,1931.1 L389.0,1930.8 L391.0,1930.5 L393.0,1930.1 L395.0,1929.8 L397.0,1929.5 L399.0,1929.2 L401.0,1929.0 L403.0,1928.7 L405.0,1926.8 L407.0,1923.0 L409.0,1918.5 L411.0,1913.6 L413.0,1906.7 L415.0,1898.4 L417.0,1887.8 L419.0,1874.0 L421.0,1857.9 L423.0,1840.6 L425.0,1824.1 L427.0,1810.8 L429.0,1800.2 L431.0,1791.6 L433.0,1784.0 L435.0,1776.9 L437.0,1770.2 L439.0,1763.6 L441.0,1756.4 L443.0,1751.0 L445.0,1748.3 L447.0,1747.2 L449.0,1747.8 L451.0,1751.0 L453.0,1756.6 L455.0,1768.5 L457.0,1781.4 L459.0,1793.5 L461.0,1807.9 L463.0,1825.5 L465.0,1842.5 L467.0,1857.3 L469.0,1870.0 L471.0,1878.5 L473.0,1885.6 L475.0,1891.2 L477.0,1895.9 L479.0,1900.5 L481.0,1904.3 L483.0,1906.6 L485.0,1907.7 L487.0,1908.8 L489.0,1909.7 L491.0,1910.4 L493.0,1911.0 L495.0,1911.4 L497.0,1911.7 L499.0,1912.0 L501.0,1912.1 L503.0,1912.0 L505.0,1911.6 L507.0,1910.9 L509.0,1910.1 L511.0,1909.2 L513.0,1908.3 L515.0,1907.4 L517.0,1906.6 L519.0,1905.7 L521.0,1904.4 L523.0,1902.7 L525.0,1900.5 L527.0,1897.9 L529.0,1895.1 L531.0,1891.9 L533.0,1888.1 L535.0,1884.0 L537.0,1880.2 L539.0,1876.9 L541.0,1873.9 L543.0,1871.1 L545.0,1868.3 L547.0,1865.4 L549.0,1862.3 L551.0,1858.9 L553.0,1855.4 L555.0,1851.6 L557.0,1847.7 L559.0,1843.4 L561.0,1838.4 L563.0,1833.1 L565.0,1827.9 L567.0,1823.2 L569.0,1818.5 L571.0,1814.0 L573.0,1809.7 L575.0,1805.4 L577.0,1801.4 L579.0,1797.4 L581.0,1793.5 L583.0,1789.6 L585.0,1785.7 L587.0,1781.9 L589.0,1778.4 L591.0,1775.4 L593.0,1772.6 L595.0,1770.6 L597.0,1769.6 L599.0,1769.1 L601.0,1769.2 L603.0,1769.8 L605.0,1770.6 L607.0,1771.7 L609.0,1773.0 L611.0,1775.0 L613.0,1777.3 L615.0,1779.9 L617.0,1782.3 L619.0,1784.4 L621.0,1786.2 L623.0,1788.0 L625.0,1789.7 L627.0,1791.3 L629.0,1792.6 L631.0,1793.8 L633.0,1794.7 L635.0,1795.4 L637.0,1796.2 L639.0,1797.0 L641.0,1797.9 L643.0,1798.9 L645.0,1799.9 L647.0,1800.9 L649.0,1801.9 L651.0,1803.0 L653.0,1804.0 L655.0,1804.9 L657.0,1805.8 L659.0,1806.7 L661.0,1807.5 L663.0,1808.3 L665.0,1809.1 L667.0,1809.9 L669.0,1810.6 L671.0,1811.4 L673.0,1812.1 L675.0,1812.9 L677.0,1813.7 L679.0,1814.6 L681.0,1815.5 L683.0,1816.4 L685.0,1817.4 L687.0,1818.5 L689.0,1819.7 L691.0,1821.0 L693.0,1822.5 L695.0,1824.2 L697.0,1825.9 L699.0,1827.8 L701.0,1829.7 L703.0,1831.7 L705.0,1833.7 L707.0,1835.8 L709.0,1837.8 L711.0,1839.9 L713.0,1842.0 L715.0,1844.2 L717.0,1846.5 L719.0,1848.8 L721.0,1851.2 L723.0,1853.7 L725.0,1856.2 L727.0,1858.7 L729.0,1861.5 L731.0,1864.3 L733.0,1867.2 L735.0,1870.0 L737.0,1872.6 L739.0,1875.0 L741.0,1877.2 L743.0,1879.2 L745.0,1881.2 L747.0,1883.1 L749.0,1884.9 L751.0,1886.6 L753.0,1888.2 L755.0,1889.8 L757.0,1891.3 L759.0,1892.6 L761.0,1894.0 L763.0,1895.4 L765.0,1896.7 L767.0,1898.0 L769.0,1899.2 L771.0,1900.3 L773.0,1901.2 L775.0,1901.9 L777.0,1902.4 L779.0,1902.9 L781.0,1903.3 L783.0,1903.7 L785.0,1904.0 L787.0,1904.2 L789.0,1904.4 L791.0,1904.4 L793.0,1904.4 L795.0,1904.4 L797.0,1904.3 L799.0,1904.1 L801.0,1904.0 L803.0,1903.7 L805.0,1903.4 L807.0,1903.1 L809.0,1902.6 L811.0,1902.0 L813.0,1901.3 L815.0,1900.4 L817.0,1899.5 L819.0,1898.5 L821.0,1897.5 L823.0,1896.4 L825.0,1895.3 L827.0,1894.2 L829.0,1893.1 L831.0,1892.0 L833.0,1890.9 L835.0,1889.7 L837.0,1888.4 L839.0,1887.1 L841.0,1885.8 L843.0,1884.3 L845.0,1882.9 L847.0,1881.4 L849.0,1879.8 L851.0,1878.2 L853.0,1876.6 L855.0,1875.0 L857.0,1873.2 L859.0,1871.4 L861.0,1869.4 L863.0,1867.3 L865.0,1865.1 L867.0,1862.9 L869.0,1860.6 L871.0,1858.1 L873.0,1855.7 L875.0,1853.1 L877.0,1850.5 L879.0,1847.8 L881.0,1844.8 L883.0,1841.5 L885.0,1838.2 L887.0,1834.7 L889.0,1831.1 L891.0,1827.6 L893.0,1824.0 L895.0,1820.3 L897.0,1816.4 L899.0,1812.5 L901.0,1808.7 L903.0,1805.0 L905.0,1801.7 L907.0,1798.6 L909.0,1795.8 L911.0,1793.2 L913.0,1790.7 L915.0,1788.5 L917.0,1786.5 L919.0,1784.7 L921.0,1782.9 L923.0,1781.1 L925.0,1779.4 L927.0,1777.9 L929.0,1776.8 L931.0,1776.1 L933.0,1775.9 L935.0,1776.4 L937.0,1777.4 L939.0,1778.7 L941.0,1780.4 L943.0,1782.2 L945.0,1784.2 L947.0,1786.1 L949.0,1788.0 L951.0,1789.8 L953.0,1791.8 L955.0,1793.8 L957.0,1795.8 L959.0,1797.9 L961.0,1800.0 L963.0,1802.0 L965.0,1804.0 L967.0,1806.0 L969.0,1807.8 L971.0,1809.8 L973.0,1811.8 L975.0,1813.7 L977.0,1815.6 L979.0,1817.4 L981.0,1819.0 L983.0,1820.3 L985.0,1821.4 L987.0,1822.3 L989.0,1823.1 L991.0,1823.8 L993.0,1824.3 L995.0,1824.7 L997.0,1825.0 L999.0,1825.1 L1001.0,1825.0 L1003.0,1824.7 L1005.0,1824.3 L1007.0,1823.7 L1009.0,1823.1 L1011.0,1822.3 L1013.0,1821.4 L1015.0,1820.5 L1017.0,1819.4 L1019.0,1818.3 L1021.0,1817.2 L1023.0,1816.0 L1025.0,1814.7 L1027.0,1813.2 L1029.0,1811.6 L1031.0,1809.8 L1033.0,1808.0 L1035.0,1806.0 L1037.0,1804.0 L1039.0,1801.9 L1041.0,1799.8 L1043.0,1797.6 L1045.0,1795.5 L1047.0,1793.3 L1049.0,1791.2 L1051.0,1789.1 L1053.0,1786.9 L1055.0,1784.6 L1057.0,1782.2 L1059.0,1779.8 L1061.0,1777.4 L1063.0,1775.0 L1065.0,1772.6 L1067.0,1770.2 L1069.0,1767.9 L1071.0,1765.6 L1073.0,1763.4 L1075.0,1761.2 L1077.0,1759.1 L1079.0,1757.0 L1081.0,1754.9 L1083.0,1752.8 L1085.0,1750.8 L1087.0,1748.9 L1089.0,1747.1 L1091.0,1745.5 L1093.0,1744.1 L1095.0,1742.9 L1097.0,1741.8 L1099.0,1740.7 L1101.0,1739.8 L1103.0,1738.9 L1105.0,1738.1 L1107.0,1737.5 L1109.0,1737.1 L1111.0,1736.9 L1113.0,1736.8 L1115.0,1737.1 L1117.0,1737.5 L1119.0,1738.2 L1121.0,1739.0 L1123.0,1739.9 L1125.0,1741.0 L1127.0,1742.1 L1129.0,1743.3 L1131.0,1744.6 L1133.0,1745.8 L1135.0,1747.1 L1137.0,1748.4 L1139.0,1749.9 L1141.0,1751.4 L1143.0,1752.9 L1145.0,1754.6 L1147.0,1756.3 L1149.0,1758.1 L1151.0,1759.9 L1153.0,1761.8 L1155.0,1763.7 L1157.0,1765.6 L1159.0,1767.6 L1161.0,1769.6 L1163.0,1771.8 L1165.0,1774.0 L1167.0,1776.4 L1169.0,1778.9 L1171.0,1781.4 L1173.0,1783.9 L1175.0,1786.5 L1177.0,1789.0 L1179.0,1791.5 L1181.0,1794.0 L1183.0,1796.4 L1185.0,1798.7 L1187.0,1801.0 L1189.0,1803.1 L1191.0,1805.2 L1193.0,1807.2 L1195.0,1809.2 L1197.0,1811.1 L1199.0,1813.1 L1201.0,1815.0 L1203.0,1816.9 L1205.0,1818.9 L1207.0,1820.8 L1209.0,1822.8 L1211.0,1824.8 L1213.0,1826.9 L1215.0,1829.0 L1217.0,1831.2 L1219.0,1833.4 L1221.0,1835.7 L1223.0,1838.0 L1225.0,1840.3 L1227.0,1842.6 L1229.0,1844.9 L1231.0,1847.2 L1233.0,1849.5 L1235.0,1851.7 L1237.0,1853.9 L1239.0,1856.0 L1241.0,1858.0 L1243.0,1860.0 L1245.0,1861.8 L1247.0,1863.6 L1249.0,1865.3 L1251.0,1866.9 L1253.0,1868.5 L1255.0,1870.0 L1257.0,1871.5 L1259.0,1872.9 L1261.0,1874.3 L1263.0,1875.7 L1265.0,1877.0 L1267.0,1878.2 L1269.0,1879.4 L1271.0,1880.6 L1273.0,1881.8 L1275.0,1882.9 L1277.0,1884.0 L1279.0,1885.1 L1281.0,1886.2 L1283.0,1887.3 L1285.0,1888.4 L1287.0,1889.4 L1289.0,1890.5 L1291.0,1891.5 L1293.0,1892.5 L1295.0,1893.5 L1297.0,1894.4 L1299.0,1895.3 L1301.0,1896.2 L1303.0,1897.0 L1305.0,1897.9 L1307.0,1898.7 L1309.0,1899.4 L1311.0,1900.2 L1313.0,1901.0 L1315.0,1901.7 L1317.0,1902.4 L1319.0,1903.2 L1321.0,1903.9 L1323.0,1904.6 L1325.0,1905.3 L1327.0,1905.9 L1329.0,1906.6 L1331.0,1907.2 L1333.0,1907.9 L1335.0,1908.5 L1337.0,1909.1 L1339.0,1909.7 L1341.0,1910.3 L1343.0,1910.8 L1345.0,1911.4 L1347.0,1912.0 L1349.0,1912.5 L1351.0,1913.1 L1353.0,1913.6 L1355.0,1914.1 L1357.0,1914.7 L1359.0,1915.2 L1361.0,1915.7 L1363.0,1916.2 L1365.0,1916.6 L1367.0,1917.1 L1369.0,1917.5 L1371.0,1918.0 L1373.0,1918.4 L1375.0,1918.9 L1377.0,1919.3 L1379.0,1919.8 L1381.0,1920.2 L1383.0,1920.7 L1385.0,1921.1 L1387.0,1921.6 L1389.0,1922.0 L1391.0,1922.5 L1393.0,1922.9 L1395.0,1923.3 L1397.0,1923.8 L1399.0,1924.2 L1401.0,1924.6 L1403.0,1925.0 L1405.0,1925.3 L1407.0,1925.7 L1409.0,1926.0 L1411.0,1926.4 L1413.0,1926.7 L1415.0,1927.0 L1417.0,1927.3 L1419.0,1927.5 L1421.0,1927.8 L1423.0,1928.0 L1425.0,1928.2 L1427.0,1928.4 L1429.0,1928.6 L1431.0,1928.8 L1433.0,1929.0 L1435.0,1929.2 L1437.0,1929.4 L1439.0,1929.6 L1441.0,1929.8 L1443.0,1930.0 L1445.0,1930.2 L1447.0,1930.4 L1449.0,1930.6 L1451.0,1930.8 L1453.0,1931.0 L1455.0,1931.2 L1457.0,1931.4 L1459.0,1931.6 L1461.0,1931.7 L1463.0,1931.9 L1465.0,1932.1 L1467.0,1932.2 L1469.0,1932.4 L1471.0,1932.6 L1473.0,1932.7 L1475.0,1932.9 L1477.0,1933.0 L1479.0,1933.1 L1481.0,1933.3 L1483.0,1933.4 L1485.0,1933.5 L1487.0,1933.6 L1489.0,1933.8 L1491.0,1933.9 L1493.0,1934.0 L1495.0,1934.1 L1497.0,1934.2 L1499.0,1934.2 L1501.0,1934.3 L1503.0,1934.4 L1505.0,1934.5 L1507.0,1934.5 L1509.0,1934.6 L1511.0,1934.6 L1513.0,1934.7 L1515.0,1934.7 L1517.0,1934.7 L1519.0,1934.7 L1521.0,1934.7 L1523.0,1934.8 L1525.0,1934.8 L1527.0,1934.7 L1529.0,1934.7 L1531.0,1934.7 L1533.0,1934.7 L1535.0,1934.7 L1537.0,1934.7 L1539.0,1934.6 L1541.0,1934.6 L1543.0,1934.6 L1545.0,1934.6 L1547.0,1934.5 L1549.0,1934.5 L1551.0,1934.4 L1553.0,1934.4 L1555.0,1934.4 L1557.0,1934.3 L1559.0,1934.3 L1561.0,1934.2 L1563.0,1934.2 L1565.0,1934.2 L1567.0,1934.1 L1569.0,1934.1 L1571.0,1934.1 L1573.0,1934.0 L1575.0,1934.0 L1577.0,1934.0 L1579.0,1933.9 L1581.0,1933.9 L1583.0,1933.9 L1585.0,1933.9 L1587.0,1933.9 L1589.0,1933.9 L1591.0,1933.9 L1593.0,1933.9 L1595.0,1933.9 L1597.0,1933.9 L1599.0,1933.9 L1601.0,1933.9 L1603.0,1934.0 L1605.0,1934.0 L1607.0,1934.0 L1609.0,1934.1 L1611.0,1934.2 L1613.0,1934.2 L1615.0,1934.3 L1617.0,1934.4 L1619.0,1934.4 L1621.0,1934.5 L1623.0,1934.6 L1625.0,1934.7 L1627.0,1934.8 L1629.0,1934.9 L1631.0,1935.0 L1633.0,1935.1 L1635.0,1935.2 L1637.0,1935.3 L1639.0,1935.5 L1641.0,1935.6 L1643.0,1935.7 L1645.0,1935.8 L1647.0,1935.9 L1649.0,1936.1 L1651.0,1936.2 L1653.0,1936.3 L1655.0,1936.4 L1657.0,1936.5 L1659.0,1936.7 L1661.0,1936.8 L1663.0,1936.9 L1665.0,1937.0 L1667.0,1937.2 L1669.0,1937.3 L1671.0,1937.4 L1673.0,1937.5 L1675.0,1937.6 L1677.0,1937.7 L1679.0,1937.8 L1681.0,1937.9 L1683.0,1938.0 L1685.0,1938.1 L1687.0,1938.2 L1689.0,1938.3 L1691.0,1938.4 L1693.0,1938.5 L1695.0,1938.6 L1697.0,1938.6 L1699.0,1938.7 L1701.0,1938.8 L1703.0,1938.8 L1705.0,1938.9 L1707.0,1938.9 L1709.0,1939.0 L1711.0,1939.0 L1713.0,1939.0 L1715.0,1939.1 L1717.0,1939.1 L1719.0,1939.2 L1721.0,1939.2 L1723.0,1939.3 L1725.0,1939.3 L1727.0,1939.3 L1729.0,1939.4 L1731.0,1939.4 L1733.0,1939.4 L1735.0,1939.5 L1737.0,1939.5 L1739.0,1939.5 L1741.0,1939.5 L1743.0,1939.6 L1745.0,1939.6 L1747.0,1939.6 L1749.0,1939.6 L1751.0,1939.7 L1753.0,1939.7 L1755.0,1939.7 L1757.0,1939.7 L1759.0,1939.7 L1761.0,1939.7 L1763.0,1939.7 L1765.0,1939.7 L1767.0,1939.7 L1769.0,1939.7 L1771.0,1939.8 L1773.0,1939.8 L1775.0,1939.7 L1777.0,1939.7 L1779.0,1939.7 L1781.0,1939.7 L1783.0,1939.7 L1785.0,1939.7 L1787.0,1939.7" fill="none" stroke="#ff8080" stroke-width="7.5" stroke-linejoin="round" stroke-linecap="butt"/>
<path d="M193.0,2171.0 L195.0,2171.3 L197.0,2171.6 L199.0,2171.9 L201.0,2172.2 L203.0,2172.5 L205.0,2172.7 L207.0,2172.9 L209.0,2173.2 L211.0,2173.3 L213.0,2173.5 L215.0,2173.7 L217.0,2173.8 L219.0,2173.9 L221.0,2174.0 L223.0,2174.0 L225.0,2174.0 L227.0,2174.0 L229.0,2174.0 L231.0,2174.0 L233.0,2173.9 L235.0,2173.8 L237.0,2173.6 L239.0,2173.5 L241.0,2173.3 L243.0,2173.0 L245.0,2172.8 L247.0,2172.4 L249.0,2172.1 L251.0,2171.7 L253.0,2171.3 L255.0,2170.9 L257.0,2170.4 L259.0,2169.9 L261.0,2169.3 L263.0,2168.7 L265.0,2168.0 L267.0,2167.2 L269.0,2166.3 L271.0,2165.3 L273.0,2164.2 L275.0,2163.0 L277.0,2161.7 L279.0,2160.5 L281.0,2159.2 L283.0,2158.0 L285.0,2156.8 L287.0,2155.6 L289.0,2154.6 L291.0,2153.4 L293.0,2152.2 L295.0,2151.1 L297.0,2149.9 L299.0,2148.8 L301.0,2147.8 L303.0,2147.0 L305.0,2146.3 L307.0,2145.8 L309.0,2145.7 L311.0,2145.9 L313.0,2146.3 L315.0,2147.0 L317.0,2147.8 L319.0,2148.6 L321.0,2149.4 L323.0,2150.2 L325.0,2150.8 L327.0,2151.2 L329.0,2151.3 L331.0,2151.1 L333.0,2150.6 L335.0,2149.8 L337.0,2148.8 L339.0,2147.7 L341.0,2146.5 L343.0,2145.2 L345.0,2143.9 L347.0,2142.7 L349.0,2141.2 L351.0,2139.6 L353.0,2137.9 L355.0,2136.1 L357.0,2134.3 L359.0,2132.4 L361.0,2130.7 L363.0,2129.0 L365.0,2127.5 L367.0,2126.2 L369.0,2125.1 L371.0,2124.4 L373.0,2124.2 L375.0,2124.4 L377.0,2125.0 L379.0,2125.7 L381.0,2126.4 L383.0,2127.0 L385.0,2127.5 L387.0,2127.6 L389.0,2127.2 L391.0,2126.3 L393.0,2124.9 L395.0,2123.2 L397.0,2121.2 L399.0,2119.0 L401.0,2116.9 L403.0,2114.8 L405.0,2112.3 L407.0,2109.0 L409.0,2104.8 L411.0,2098.7 L413.0,2088.7 L415.0,2077.5 L417.0,2064.7 L419.0,2052.2 L421.0,2040.4 L423.0,2025.7 L425.0,2008.1 L427.0,1991.4 L429.0,1977.1 L431.0,1964.3 L433.0,1951.1 L435.0,1939.9 L437.0,1930.7 L439.0,1924.6 L441.0,1920.3 L443.0,1918.5 L445.0,1917.7 L447.0,1917.8 L449.0,1919.3 L451.0,1922.0 L453.0,1926.3 L455.0,1934.5 L457.0,1946.6 L459.0,1963.6 L461.0,1984.9 L463.0,2009.8 L465.0,2034.3 L467.0,2042.6 L469.0,2048.6 L471.0,2054.3 L473.0,2060.5 L475.0,2071.6 L477.0,2081.6 L479.0,2087.2 L481.0,2090.8 L483.0,2093.0 L485.0,2095.3 L487.0,2097.3 L489.0,2098.8 L491.0,2099.7 L493.0,2100.3 L495.0,2100.9 L497.0,2101.3 L499.0,2101.5 L501.0,2101.4 L503.0,2101.0 L505.0,2100.5 L507.0,2099.8 L509.0,2099.0 L511.0,2098.2 L513.0,2097.1 L515.0,2095.8 L517.0,2094.4 L519.0,2092.8 L521.0,2091.2 L523.0,2089.4 L525.0,2087.3 L527.0,2085.1 L529.0,2082.7 L531.0,2080.1 L533.0,2077.3 L535.0,2074.3 L537.0,2071.2 L539.0,2068.0 L541.0,2064.6 L543.0,2061.0 L545.0,2056.8 L547.0,2052.3 L549.0,2047.4 L551.0,2042.3 L553.0,2037.0 L555.0,2031.7 L557.0,2026.4 L559.0,2021.3 L561.0,2016.2 L563.0,2011.0 L565.0,2005.7 L567.0,2000.4 L569.0,1995.3 L571.0,1990.1 L573.0,1984.9 L575.0,1979.8 L577.0,1975.0 L579.0,1970.7 L581.0,1966.6 L583.0,1962.7 L585.0,1959.0 L587.0,1955.7 L589.0,1952.5 L591.0,1949.4 L593.0,1946.9 L595.0,1945.5 L597.0,1944.6 L599.0,1944.1 L601.0,1944.2 L603.0,1944.6 L605.0,1945.3 L607.0,1946.1 L609.0,1947.1 L611.0,1948.3 L613.0,1949.7 L615.0,1951.5 L617.0,1953.4 L619.0,1955.4 L621.0,1957.5 L623.0,1959.5 L625.0,1961.3 L627.0,1963.0 L629.0,1964.8 L631.0,1966.5 L633.0,1968.2 L635.0,1969.8 L637.0,1971.3 L639.0,1972.7 L641.0,1973.9 L643.0,1974.9 L645.0,1975.9 L647.0,1976.8 L649.0,1977.7 L651.0,1978.5 L653.0,1979.3 L655.0,1980.2 L657.0,1981.0 L659.0,1981.8 L661.0,1982.7 L663.0,1983.6 L665.0,1984.6 L667.0,1985.6 L669.0,1986.6 L671.0,1987.6 L673.0,1988.6 L675.0,1989.7 L677.0,1990.8 L679.0,1991.9 L681.0,1993.0 L683.0,1994.2 L685.0,1995.4 L687.0,1996.7 L689.0,1998.0 L691.0,1999.5 L693.0,2001.1 L695.0,2002.8 L697.0,2004.6 L699.0,2006.4 L701.0,2008.3 L703.0,2010.3 L705.0,2012.2 L707.0,2014.2 L709.0,2016.3 L711.0,2018.4 L713.0,2020.7 L715.0,2023.0 L717.0,2025.5 L719.0,2028.0 L721.0,2030.6 L723.0,2033.4 L725.0,2036.4 L727.0,2039.5 L729.0,2042.7 L731.0,2045.8 L733.0,2048.8 L735.0,2051.6 L737.0,2054.1 L739.0,2056.6 L741.0,2059.1 L743.0,2061.5 L745.0,2063.8 L747.0,2066.0 L749.0,2068.2 L751.0,2070.2 L753.0,2072.1 L755.0,2073.9 L757.0,2075.7 L759.0,2077.6 L761.0,2079.4 L763.0,2081.1 L765.0,2082.8 L767.0,2084.2 L769.0,2085.5 L771.0,2086.6 L773.0,2087.4 L775.0,2088.0 L777.0,2088.6 L779.0,2089.1 L781.0,2089.6 L783.0,2090.1 L785.0,2090.4 L787.0,2090.7 L789.0,2090.9 L791.0,2090.9 L793.0,2090.9 L795.0,2090.7 L797.0,2090.5 L799.0,2090.2 L801.0,2089.8 L803.0,2089.4 L805.0,2088.9 L807.0,2088.5 L809.0,2087.9 L811.0,2087.4 L813.0,2086.8 L815.0,2086.2 L817.0,2085.4 L819.0,2084.5 L821.0,2083.5 L823.0,2082.5 L825.0,2081.4 L827.0,2080.3 L829.0,2079.1 L831.0,2077.9 L833.0,2076.7 L835.0,2075.4 L837.0,2074.1 L839.0,2072.7 L841.0,2071.1 L843.0,2069.5 L845.0,2067.7 L847.0,2065.9 L849.0,2064.0 L851.0,2062.0 L853.0,2060.0 L855.0,2057.9 L857.0,2055.8 L859.0,2053.7 L861.0,2051.4 L863.0,2049.1 L865.0,2046.5 L867.0,2043.9 L869.0,2041.1 L871.0,2038.2 L873.0,2035.2 L875.0,2032.1 L877.0,2028.9 L879.0,2025.5 L881.0,2021.8 L883.0,2017.9 L885.0,2013.8 L887.0,2009.5 L889.0,2005.3 L891.0,2001.0 L893.0,1996.9 L895.0,1993.0 L897.0,1989.4 L899.0,1985.8 L901.0,1982.2 L903.0,1978.7 L905.0,1975.3 L907.0,1972.1 L909.0,1969.1 L911.0,1966.4 L913.0,1964.1 L915.0,1962.0 L917.0,1960.0 L919.0,1958.1 L921.0,1956.3 L923.0,1954.8 L925.0,1953.5 L927.0,1952.6 L929.0,1952.0 L931.0,1951.9 L933.0,1952.0 L935.0,1952.4 L937.0,1953.1 L939.0,1953.9 L941.0,1955.0 L943.0,1956.3 L945.0,1957.7 L947.0,1959.3 L949.0,1961.2 L951.0,1963.4 L953.0,1965.9 L955.0,1968.4 L957.0,1971.0 L959.0,1973.5 L961.0,1975.9 L963.0,1978.3 L965.0,1980.9 L967.0,1983.4 L969.0,1985.9 L971.0,1988.3 L973.0,1990.6 L975.0,1992.6 L977.0,1994.3 L979.0,1995.8 L981.0,1997.1 L983.0,1998.4 L985.0,1999.6 L987.0,2000.6 L989.0,2001.5 L991.0,2002.2 L993.0,2002.8 L995.0,2003.1 L997.0,2003.2 L999.0,2003.1 L1001.0,2002.8 L1003.0,2002.2 L1005.0,2001.5 L1007.0,2000.6 L1009.0,1999.5 L1011.0,1998.3 L1013.0,1997.1 L1015.0,1995.7 L1017.0,1994.3 L1019.0,1992.9 L1021.0,1991.5 L1023.0,1990.1 L1025.0,1988.6 L1027.0,1987.1 L1029.0,1985.5 L1031.0,1983.9 L1033.0,1982.2 L1035.0,1980.5 L1037.0,1978.6 L1039.0,1976.8 L1041.0,1974.9 L1043.0,1972.9 L1045.0,1970.9 L1047.0,1968.8 L1049.0,1966.7 L1051.0,1964.5 L1053.0,1962.1 L1055.0,1959.5 L1057.0,1956.8 L1059.0,1954.0 L1061.0,1951.2 L1063.0,1948.4 L1065.0,1945.5 L1067.0,1942.7 L1069.0,1940.0 L1071.0,1937.4 L1073.0,1935.0 L1075.0,1932.7 L1077.0,1930.6 L1079.0,1928.6 L1081.0,1926.6 L1083.0,1924.7 L1085.0,1922.9 L1087.0,1921.2 L1089.0,1919.6 L1091.0,1918.2 L1093.0,1916.9 L1095.0,1915.9 L1097.0,1914.9 L1099.0,1913.9 L1101.0,1912.9 L1103.0,1912.1 L1105.0,1911.3 L1107.0,1910.7 L1109.0,1910.2 L1111.0,1909.9 L1113.0,1909.8 L1115.0,1909.9 L1117.0,1910.2 L1119.0,1910.8 L1121.0,1911.5 L1123.0,1912.5 L1125.0,1913.5 L1127.0,1914.7 L1129.0,1915.9 L1131.0,1917.2 L1133.0,1918.6 L1135.0,1920.0 L1137.0,1921.6 L1139.0,1923.3 L1141.0,1925.1 L1143.0,1927.0 L1145.0,1929.0 L1147.0,1931.1 L1149.0,1933.3 L1151.0,1935.5 L1153.0,1937.7 L1155.0,1939.9 L1157.0,1942.1 L1159.0,1944.3 L1161.0,1946.5 L1163.0,1948.7 L1165.0,1950.9 L1167.0,1953.2 L1169.0,1955.6 L1171.0,1957.9 L1173.0,1960.3 L1175.0,1962.6 L1177.0,1965.0 L1179.0,1967.4 L1181.0,1969.8 L1183.0,1972.2 L1185.0,1974.5 L1187.0,1976.8 L1189.0,1979.1 L1191.0,1981.4 L1193.0,1983.6 L1195.0,1985.7 L1197.0,1987.8 L1199.0,1989.9 L1201.0,1991.9 L1203.0,1993.8 L1205.0,1995.7 L1207.0,1997.6 L1209.0,1999.5 L1211.0,2001.4 L1213.0,2003.4 L1215.0,2005.4 L1217.0,2007.4 L1219.0,2009.5 L1221.0,2011.6 L1223.0,2013.9 L1225.0,2016.3 L1227.0,2018.7 L1229.0,2021.2 L1231.0,2023.7 L1233.0,2026.3 L1235.0,2028.8 L1237.0,2031.3 L1239.0,2033.8 L1241.0,2036.3 L1243.0,2038.6 L1245.0,2040.9 L1247.0,2043.0 L1249.0,2045.1 L1251.0,2047.1 L1253.0,2049.1 L1255.0,2051.1 L1257.0,2053.0 L1259.0,2054.9 L1261.0,2056.8 L1263.0,2058.6 L1265.0,2060.3 L1267.0,2062.0 L1269.0,2063.6 L1271.0,2065.1 L1273.0,2066.5 L1275.0,2067.9 L1277.0,2069.2 L1279.0,2070.6 L1281.0,2071.9 L1283.0,2073.2 L1285.0,2074.4 L1287.0,2075.6 L1289.0,2076.8 L1291.0,2078.0 L1293.0,2079.1 L1295.0,2080.2 L1297.0,2081.3 L1299.0,2082.3 L1301.0,2083.3 L1303.0,2084.2 L1305.0,2085.2 L1307.0,2086.0 L1309.0,2086.9 L1311.0,2087.8 L1313.0,2088.6 L1315.0,2089.5 L1317.0,2090.3 L1319.0,2091.1 L1321.0,2091.9 L1323.0,2092.7 L1325.0,2093.5 L1327.0,2094.2 L1329.0,2095.0 L1331.0,2095.7 L1333.0,2096.4 L1335.0,2097.0 L1337.0,2097.7 L1339.0,2098.3 L1341.0,2098.9 L1343.0,2099.5 L1345.0,2100.0 L1347.0,2100.6 L1349.0,2101.2 L1351.0,2101.7 L1353.0,2102.3 L1355.0,2102.8 L1357.0,2103.3 L1359.0,2103.8 L1361.0,2104.3 L1363.0,2104.8 L1365.0,2105.2 L1367.0,2105.7 L1369.0,2106.1 L1371.0,2106.6 L1373.0,2107.0 L1375.0,2107.5 L1377.0,2107.9 L1379.0,2108.3 L1381.0,2108.8 L1383.0,2109.2 L1385.0,2109.7 L1387.0,2110.1 L1389.0,2110.5 L1391.0,2111.0 L1393.0,2111.4 L1395.0,2111.8 L1397.0,2112.2 L1399.0,2112.6 L1401.0,2113.0 L1403.0,2113.4 L1405.0,2113.8 L1407.0,2114.1 L1409.0,2114.5 L1411.0,2114.8 L1413.0,2115.1 L1415.0,2115.4 L1417.0,2115.7 L1419.0,2116.0 L1421.0,2116.2 L1423.0,2116.5 L1425.0,2116.7 L1427.0,2116.9 L1429.0,2117.2 L1431.0,2117.4 L1433.0,2117.6 L1435.0,2117.9 L1437.0,2118.1 L1439.0,2118.3 L1441.0,2118.5 L1443.0,2118.8 L1445.0,2119.0 L1447.0,2119.2 L1449.0,2119.4 L1451.0,2119.6 L1453.0,2119.8 L1455.0,2120.0 L1457.0,2120.2 L1459.0,2120.4 L1461.0,2120.6 L1463.0,2120.8 L1465.0,2121.0 L1467.0,2121.2 L1469.0,2121.4 L1471.0,2121.6 L1473.0,2121.7 L1475.0,2121.9 L1477.0,2122.1 L1479.0,2122.2 L1481.0,2122.4 L1483.0,2122.5 L1485.0,2122.7 L1487.0,2122.8 L1489.0,2123.0 L1491.0,2123.1 L1493.0,2123.2 L1495.0,2123.3 L1497.0,2123.4 L1499.0,2123.5 L1501.0,2123.6 L1503.0,2123.7 L1505.0,2123.8 L1507.0,2123.9 L1509.0,2123.9 L1511.0,2124.0 L1513.0,2124.0 L1515.0,2124.1 L1517.0,2124.1 L1519.0,2124.1 L1521.0,2124.2 L1523.0,2124.2 L1525.0,2124.2 L1527.0,2124.2 L1529.0,2124.2 L1531.0,2124.2 L1533.0,2124.2 L1535.0,2124.1 L1537.0,2124.1 L1539.0,2124.1 L1541.0,2124.1 L1543.0,2124.0 L1545.0,2124.0 L1547.0,2124.0 L1549.0,2123.9 L1551.0,2123.9 L1553.0,2123.8 L1555.0,2123.8 L1557.0,2123.7 L1559.0,2123.7 L1561.0,2123.7 L1563.0,2123.6 L1565.0,2123.6 L1567.0,2123.5 L1569.0,2123.5 L1571.0,2123.4 L1573.0,2123.4 L1575.0,2123.4 L1577.0,2123.3 L1579.0,2123.3 L1581.0,2123.3 L1583.0,2123.3 L1585.0,2123.2 L1587.0,2123.2 L1589.0,2123.2 L1591.0,2123.2 L1593.0,2123.2 L1595.0,2123.2 L1597.0,2123.3 L1599.0,2123.3 L1601.0,2123.3 L1603.0,2123.3 L1605.0,2123.4 L1607.0,2123.4 L1609.0,2123.5 L1611.0,2123.6 L1613.0,2123.6 L1615.0,2123.7 L1617.0,2123.8 L1619.0,2123.9 L1621.0,2124.0 L1623.0,2124.1 L1625.0,2124.2 L1627.0,2124.3 L1629.0,2124.4 L1631.0,2124.5 L1633.0,2124.7 L1635.0,2124.8 L1637.0,2124.9 L1639.0,2125.0 L1641.0,2125.2 L1643.0,2125.3 L1645.0,2125.4 L1647.0,2125.6 L1649.0,2125.7 L1651.0,2125.8 L1653.0,2126.0 L1655.0,2126.1 L1657.0,2126.3 L1659.0,2126.4 L1661.0,2126.5 L1663.0,2126.7 L1665.0,2126.8 L1667.0,2126.9 L1669.0,2127.1 L1671.0,2127.2 L1673.0,2127.3 L1675.0,2127.5 L1677.0,2127.6 L1679.0,2127.7 L1681.0,2127.8 L1683.0,2127.9 L1685.0,2128.1 L1687.0,2128.2 L1689.0,2128.3 L1691.0,2128.4 L1693.0,2128.4 L1695.0,2128.5 L1697.0,2128.6 L1699.0,2128.7 L1701.0,2128.7 L1703.0,2128.8 L1705.0,2128.9 L1707.0,2128.9 L1709.0,2129.0 L1711.0,2129.0 L1713.0,2129.1 L1715.0,2129.1 L1717.0,2129.2 L1719.0,2129.2 L1721.0,2129.3 L1723.0,2129.3 L1725.0,2129.4 L1727.0,2129.4 L1729.0,2129.4 L1731.0,2129.5 L1733.0,2129.5 L1735.0,2129.5 L1737.0,2129.6 L1739.0,2129.6 L1741.0,2129.6 L1743.0,2129.7 L1745.0,2129.7 L1747.0,2129.7 L1749.0,2129.7 L1751.0,2129.8 L1753.0,2129.8 L1755.0,2129.8 L1757.0,2129.8 L1759.0,2129.8 L1761.0,2129.8 L1763.0,2129.8 L1765.0,2129.8 L1767.0,2129.9 L1769.0,2129.9 L1771.0,2129.9 L1773.0,2129.9 L1775.0,2129.9 L1777.0,2129.9 L1779.0,2129.8 L1781.0,2129.8 L1783.0,2129.8 L1785.0,2129.8 L1787.0,2129.8" fill="none" stroke="#808080" stroke-width="7.5" stroke-linejoin="round" stroke-linecap="butt"/>
<path d="M193.0,2383.6 L195.0,2383.7 L197.0,2383.7 L199.0,2383.7 L201.0,2383.7 L203.0,2383.7 L205.0,2383.7 L207.0,2383.7 L209.0,2383.7 L211.0,2383.6 L213.0,2383.6 L215.0,2383.5 L217.0,2383.4 L219.0,2383.4 L221.0,2383.3 L223.0,2383.2 L225.0,2383.1 L227.0,2383.0 L229.0,2382.9 L231.0,2382.7 L233.0,2382.6 L235.0,2382.5 L237.0,2382.4 L239.0,2382.2 L241.0,2382.1 L243.0,2382.0 L245.0,2381.9 L247.0,2381.7 L249.0,2381.5 L251.0,2381.3 L253.0,2381.1 L255.0,2380.8 L257.0,2380.5 L259.0,2380.1 L261.0,2379.7 L263.0,2379.3 L265.0,2378.9 L267.0,2378.4 L269.0,2377.9 L271.0,2377.3 L273.0,2376.8 L275.0,2376.0 L277.0,2375.1 L279.0,2374.1 L281.0,2373.0 L283.0,2371.8 L285.0,2370.7 L287.0,2369.6 L289.0,2368.6 L291.0,2367.5 L293.0,2366.3 L295.0,2365.1 L297.0,2363.9 L299.0,2362.8 L301.0,2361.8 L303.0,2360.9 L305.0,2360.3 L307.0,2359.8 L309.0,2359.7 L311.0,2360.0 L313.0,2360.5 L315.0,2361.3 L317.0,2362.1 L319.0,2363.1 L321.0,2364.0 L323.0,2364.9 L325.0,2365.7 L327.0,2366.2 L329.0,2366.5 L331.0,2366.4 L333.0,2366.1 L335.0,2365.5 L337.0,2364.7 L339.0,2363.8 L341.0,2362.7 L343.0,2361.6 L345.0,2360.5 L347.0,2359.3 L349.0,2357.8 L351.0,2356.1 L353.0,2354.1 L355.0,2352.1 L357.0,2350.0 L359.0,2348.0 L361.0,2346.0 L363.0,2344.3 L365.0,2342.9 L367.0,2341.9 L369.0,2341.3 L371.0,2341.1 L373.0,2341.1 L375.0,2341.4 L377.0,2341.9 L379.0,2342.4 L381.0,2342.9 L383.0,2343.4 L385.0,2343.8 L387.0,2344.0 L389.0,2343.9 L391.0,2343.6 L393.0,2343.0 L395.0,2342.3 L397.0,2341.4 L399.0,2340.3 L401.0,2339.2 L403.0,2337.8 L405.0,2335.0 L407.0,2331.1 L409.0,2326.7 L411.0,2321.6 L413.0,2314.9 L415.0,2307.3 L417.0,2299.3 L419.0,2290.2 L421.0,2280.4 L423.0,2269.4 L425.0,2257.2 L427.0,2243.9 L429.0,2229.8 L431.0,2215.4 L433.0,2201.2 L435.0,2188.2 L437.0,2176.1 L439.0,2164.5 L441.0,2154.6 L443.0,2147.4 L445.0,2143.5 L447.0,2142.0 L449.0,2142.1 L451.0,2144.3 L453.0,2147.8 L455.0,2152.9 L457.0,2161.5 L459.0,2174.0 L461.0,2190.7 L463.0,2210.1 L465.0,2230.3 L467.0,2249.8 L469.0,2267.8 L471.0,2280.6 L473.0,2290.2 L475.0,2296.5 L477.0,2302.0 L479.0,2305.8 L481.0,2308.1 L483.0,2310.1 L485.0,2311.9 L487.0,2313.5 L489.0,2314.9 L491.0,2316.3 L493.0,2317.6 L495.0,2318.7 L497.0,2319.5 L499.0,2320.0 L501.0,2320.4 L503.0,2320.5 L505.0,2320.5 L507.0,2320.2 L509.0,2319.6 L511.0,2318.8 L513.0,2318.0 L515.0,2317.0 L517.0,2315.7 L519.0,2314.2 L521.0,2312.6 L523.0,2310.8 L525.0,2308.8 L527.0,2306.4 L529.0,2303.7 L531.0,2300.9 L533.0,2298.0 L535.0,2295.0 L537.0,2291.7 L539.0,2288.2 L541.0,2284.6 L543.0,2280.8 L545.0,2276.8 L547.0,2272.7 L549.0,2268.5 L551.0,2264.3 L553.0,2260.1 L555.0,2256.1 L557.0,2252.4 L559.0,2249.0 L561.0,2245.5 L563.0,2241.5 L565.0,2236.7 L567.0,2230.4 L569.0,2223.2 L571.0,2216.1 L573.0,2210.1 L575.0,2204.5 L577.0,2199.2 L579.0,2194.3 L581.0,2190.0 L583.0,2186.2 L585.0,2182.5 L587.0,2179.0 L589.0,2176.0 L591.0,2173.6 L593.0,2171.9 L595.0,2170.3 L597.0,2168.9 L599.0,2168.0 L601.0,2167.8 L603.0,2168.3 L605.0,2169.2 L607.0,2170.4 L609.0,2171.8 L611.0,2173.3 L613.0,2174.9 L615.0,2176.6 L617.0,2178.5 L619.0,2180.6 L621.0,2182.7 L623.0,2184.8 L625.0,2186.8 L627.0,2188.9 L629.0,2191.1 L631.0,2193.2 L633.0,2195.3 L635.0,2197.1 L637.0,2198.6 L639.0,2199.9 L641.0,2201.2 L643.0,2202.4 L645.0,2203.5 L647.0,2204.5 L649.0,2205.4 L651.0,2206.3 L653.0,2207.1 L655.0,2207.9 L657.0,2208.6 L659.0,2209.2 L661.0,2209.8 L663.0,2210.4 L665.0,2211.0 L667.0,2211.5 L669.0,2212.0 L671.0,2212.6 L673.0,2213.2 L675.0,2213.8 L677.0,2214.5 L679.0,2215.2 L681.0,2216.0 L683.0,2217.1 L685.0,2218.3 L687.0,2219.6 L689.0,2221.0 L691.0,2222.4 L693.0,2224.0 L695.0,2225.5 L697.0,2227.2 L699.0,2228.9 L701.0,2230.7 L703.0,2232.5 L705.0,2234.3 L707.0,2236.2 L709.0,2238.1 L711.0,2240.1 L713.0,2242.1 L715.0,2244.2 L717.0,2246.5 L719.0,2248.8 L721.0,2251.2 L723.0,2253.6 L725.0,2256.1 L727.0,2258.6 L729.0,2261.1 L731.0,2263.6 L733.0,2266.1 L735.0,2268.6 L737.0,2271.3 L739.0,2273.9 L741.0,2276.7 L743.0,2279.4 L745.0,2282.0 L747.0,2284.6 L749.0,2287.0 L751.0,2289.3 L753.0,2291.4 L755.0,2293.6 L757.0,2295.7 L759.0,2297.8 L761.0,2299.7 L763.0,2301.5 L765.0,2303.1 L767.0,2304.4 L769.0,2305.3 L771.0,2306.0 L773.0,2306.6 L775.0,2307.2 L777.0,2307.7 L779.0,2308.2 L781.0,2308.6 L783.0,2309.0 L785.0,2309.3 L787.0,2309.5 L789.0,2309.6 L791.0,2309.7 L793.0,2309.6 L795.0,2309.5 L797.0,2309.3 L799.0,2309.0 L801.0,2308.7 L803.0,2308.3 L805.0,2307.9 L807.0,2307.4 L809.0,2306.9 L811.0,2306.3 L813.0,2305.8 L815.0,2305.2 L817.0,2304.6 L819.0,2303.9 L821.0,2303.1 L823.0,2302.2 L825.0,2301.2 L827.0,2300.1 L829.0,2298.9 L831.0,2297.7 L833.0,2296.3 L835.0,2295.0 L837.0,2293.5 L839.0,2292.1 L841.0,2290.6 L843.0,2289.2 L845.0,2287.7 L847.0,2286.1 L849.0,2284.3 L851.0,2282.5 L853.0,2280.5 L855.0,2278.5 L857.0,2276.3 L859.0,2274.1 L861.0,2271.8 L863.0,2269.5 L865.0,2267.1 L867.0,2264.7 L869.0,2262.3 L871.0,2259.8 L873.0,2257.2 L875.0,2254.5 L877.0,2251.7 L879.0,2248.7 L881.0,2245.6 L883.0,2242.4 L885.0,2239.2 L887.0,2235.8 L889.0,2232.4 L891.0,2228.8 L893.0,2225.2 L895.0,2221.6 L897.0,2217.8 L899.0,2213.5 L901.0,2208.5 L903.0,2203.1 L905.0,2197.6 L907.0,2192.4 L909.0,2187.7 L911.0,2183.9 L913.0,2181.1 L915.0,2178.7 L917.0,2176.5 L919.0,2174.4 L921.0,2172.6 L923.0,2171.1 L925.0,2169.9 L927.0,2169.2 L929.0,2169.0 L931.0,2169.3 L933.0,2170.2 L935.0,2171.4 L937.0,2172.7 L939.0,2174.1 L941.0,2175.6 L943.0,2177.2 L945.0,2178.9 L947.0,2180.7 L949.0,2182.4 L951.0,2184.2 L953.0,2186.0 L955.0,2187.7 L957.0,2189.4 L959.0,2191.0 L961.0,2192.7 L963.0,2194.4 L965.0,2196.1 L967.0,2197.7 L969.0,2199.3 L971.0,2200.9 L973.0,2202.4 L975.0,2204.0 L977.0,2205.7 L979.0,2207.3 L981.0,2208.9 L983.0,2210.5 L985.0,2212.1 L987.0,2213.6 L989.0,2215.0 L991.0,2216.3 L993.0,2217.5 L995.0,2218.6 L997.0,2219.6 L999.0,2220.4 L1001.0,2221.0 L1003.0,2221.4 L1005.0,2221.5 L1007.0,2221.3 L1009.0,2220.9 L1011.0,2220.2 L1013.0,2219.3 L1015.0,2218.2 L1017.0,2217.1 L1019.0,2215.8 L1021.0,2214.5 L1023.0,2213.2 L1025.0,2211.7 L1027.0,2210.2 L1029.0,2208.5 L1031.0,2206.7 L1033.0,2204.7 L1035.0,2202.7 L1037.0,2200.6 L1039.0,2198.5 L1041.0,2196.2 L1043.0,2194.0 L1045.0,2191.7 L1047.0,2189.5 L1049.0,2187.2 L1051.0,2184.9 L1053.0,2182.5 L1055.0,2180.0 L1057.0,2177.5 L1059.0,2174.9 L1061.0,2172.3 L1063.0,2169.7 L1065.0,2167.1 L1067.0,2164.6 L1069.0,2162.1 L1071.0,2159.8 L1073.0,2157.4 L1075.0,2155.0 L1077.0,2152.6 L1079.0,2150.2 L1081.0,2147.8 L1083.0,2145.6 L1085.0,2143.4 L1087.0,2141.3 L1089.0,2139.4 L1091.0,2137.6 L1093.0,2136.1 L1095.0,2134.8 L1097.0,2133.5 L1099.0,2132.3 L1101.0,2131.2 L1103.0,2130.3 L1105.0,2129.4 L1107.0,2128.7 L1109.0,2128.1 L1111.0,2127.7 L1113.0,2127.4 L1115.0,2127.4 L1117.0,2127.5 L1119.0,2127.8 L1121.0,2128.3 L1123.0,2128.9 L1125.0,2129.7 L1127.0,2130.6 L1129.0,2131.6 L1131.0,2132.7 L1133.0,2133.9 L1135.0,2135.2 L1137.0,2136.6 L1139.0,2138.1 L1141.0,2139.9 L1143.0,2142.1 L1145.0,2144.6 L1147.0,2147.4 L1149.0,2150.3 L1151.0,2153.1 L1153.0,2155.8 L1155.0,2158.3 L1157.0,2160.6 L1159.0,2162.8 L1161.0,2165.0 L1163.0,2167.2 L1165.0,2169.4 L1167.0,2171.5 L1169.0,2173.7 L1171.0,2175.8 L1173.0,2178.0 L1175.0,2180.2 L1177.0,2182.4 L1179.0,2184.6 L1181.0,2186.9 L1183.0,2189.2 L1185.0,2191.6 L1187.0,2194.0 L1189.0,2196.5 L1191.0,2198.9 L1193.0,2201.4 L1195.0,2203.9 L1197.0,2206.3 L1199.0,2208.8 L1201.0,2211.2 L1203.0,2213.5 L1205.0,2215.8 L1207.0,2218.1 L1209.0,2220.2 L1211.0,2222.3 L1213.0,2224.4 L1215.0,2226.4 L1217.0,2228.4 L1219.0,2230.4 L1221.0,2232.4 L1223.0,2234.3 L1225.0,2236.3 L1227.0,2238.2 L1229.0,2240.2 L1231.0,2242.1 L1233.0,2244.1 L1235.0,2246.1 L1237.0,2248.2 L1239.0,2250.3 L1241.0,2252.4 L1243.0,2254.5 L1245.0,2256.6 L1247.0,2258.7 L1249.0,2260.8 L1251.0,2262.8 L1253.0,2264.8 L1255.0,2266.8 L1257.0,2268.6 L1259.0,2270.4 L1261.0,2272.1 L1263.0,2273.7 L1265.0,2275.2 L1267.0,2276.8 L1269.0,2278.2 L1271.0,2279.7 L1273.0,2281.1 L1275.0,2282.4 L1277.0,2283.8 L1279.0,2285.1 L1281.0,2286.3 L1283.0,2287.6 L1285.0,2288.8 L1287.0,2290.0 L1289.0,2291.3 L1291.0,2292.5 L1293.0,2293.7 L1295.0,2295.0 L1297.0,2296.2 L1299.0,2297.4 L1301.0,2298.6 L1303.0,2299.7 L1305.0,2300.7 L1307.0,2301.8 L1309.0,2302.7 L1311.0,2303.6 L1313.0,2304.4 L1315.0,2305.1 L1317.0,2305.9 L1319.0,2306.5 L1321.0,2307.2 L1323.0,2307.8 L1325.0,2308.4 L1327.0,2309.0 L1329.0,2309.6 L1331.0,2310.2 L1333.0,2310.7 L1335.0,2311.2 L1337.0,2311.7 L1339.0,2312.2 L1341.0,2312.7 L1343.0,2313.2 L1345.0,2313.6 L1347.0,2314.1 L1349.0,2314.5 L1351.0,2315.0 L1353.0,2315.4 L1355.0,2315.9 L1357.0,2316.3 L1359.0,2316.7 L1361.0,2317.2 L1363.0,2317.6 L1365.0,2318.0 L1367.0,2318.4 L1369.0,2318.8 L1371.0,2319.2 L1373.0,2319.5 L1375.0,2319.9 L1377.0,2320.3 L1379.0,2320.7 L1381.0,2321.1 L1383.0,2321.5 L1385.0,2321.9 L1387.0,2322.3 L1389.0,2322.6 L1391.0,2323.0 L1393.0,2323.4 L1395.0,2323.8 L1397.0,2324.1 L1399.0,2324.5 L1401.0,2324.9 L1403.0,2325.2 L1405.0,2325.6 L1407.0,2325.9 L1409.0,2326.2 L1411.0,2326.6 L1413.0,2326.9 L1415.0,2327.2 L1417.0,2327.5 L1419.0,2327.8 L1421.0,2328.0 L1423.0,2328.3 L1425.0,2328.6 L1427.0,2328.8 L1429.0,2329.1 L1431.0,2329.4 L1433.0,2329.6 L1435.0,2329.9 L1437.0,2330.2 L1439.0,2330.4 L1441.0,2330.7 L1443.0,2330.9 L1445.0,2331.2 L1447.0,2331.5 L1449.0,2331.7 L1451.0,2331.9 L1453.0,2332.2 L1455.0,2332.4 L1457.0,2332.6 L1459.0,2332.8 L1461.0,2333.0 L1463.0,2333.2 L1465.0,2333.4 L1467.0,2333.6 L1469.0,2333.7 L1471.0,2333.8 L1473.0,2334.0 L1475.0,2334.1 L1477.0,2334.2 L1479.0,2334.3 L1481.0,2334.3 L1483.0,2334.4 L1485.0,2334.4 L1487.0,2334.4 L1489.0,2334.4 L1491.0,2334.4 L1493.0,2334.4 L1495.0,2334.4 L1497.0,2334.4 L1499.0,2334.4 L1501.0,2334.3 L1503.0,2334.3 L1505.0,2334.3 L1507.0,2334.2 L1509.0,2334.2 L1511.0,2334.1 L1513.0,2334.1 L1515.0,2334.0 L1517.0,2334.0 L1519.0,2333.9 L1521.0,2333.8 L1523.0,2333.8 L1525.0,2333.7 L1527.0,2333.6 L1529.0,2333.6 L1531.0,2333.5 L1533.0,2333.4 L1535.0,2333.4 L1537.0,2333.3 L1539.0,2333.2 L1541.0,2333.2 L1543.0,2333.1 L1545.0,2333.1 L1547.0,2333.0 L1549.0,2333.0 L1551.0,2332.9 L1553.0,2332.9 L1555.0,2332.9 L1557.0,2332.8 L1559.0,2332.8 L1561.0,2332.8 L1563.0,2332.8 L1565.0,2332.8 L1567.0,2332.8 L1569.0,2332.8 L1571.0,2332.8 L1573.0,2332.8 L1575.0,2332.8 L1577.0,2332.9 L1579.0,2332.9 L1581.0,2333.0 L1583.0,2333.0 L1585.0,2333.1 L1587.0,2333.2 L1589.0,2333.2 L1591.0,2333.3 L1593.0,2333.4 L1595.0,2333.5 L1597.0,2333.5 L1599.0,2333.6 L1601.0,2333.7 L1603.0,2333.8 L1605.0,2333.9 L1607.0,2334.0 L1609.0,2334.1 L1611.0,2334.2 L1613.0,2334.2 L1615.0,2334.3 L1617.0,2334.4 L1619.0,2334.5 L1621.0,2334.6 L1623.0,2334.7 L1625.0,2334.8 L1627.0,2334.9 L1629.0,2335.0 L1631.0,2335.1 L1633.0,2335.2 L1635.0,2335.3 L1637.0,2335.4 L1639.0,2335.5 L1641.0,2335.6 L1643.0,2335.7 L1645.0,2335.8 L1647.0,2335.8 L1649.0,2335.9 L1651.0,2336.0 L1653.0,2336.1 L1655.0,2336.1 L1657.0,2336.2 L1659.0,2336.3 L1661.0,2336.3 L1663.0,2336.4 L1665.0,2336.5 L1667.0,2336.5 L1669.0,2336.5 L1671.0,2336.6 L1673.0,2336.6 L1675.0,2336.7 L1677.0,2336.7 L1679.0,2336.7 L1681.0,2336.8 L1683.0,2336.8 L1685.0,2336.8 L1687.0,2336.9 L1689.0,2336.9 L1691.0,2336.9 L1693.0,2336.9 L1695.0,2337.0 L1697.0,2337.0 L1699.0,2337.0 L1701.0,2337.0 L1703.0,2337.0 L1705.0,2337.1 L1707.0,2337.1 L1709.0,2337.1 L1711.0,2337.1 L1713.0,2337.1 L1715.0,2337.1 L1717.0,2337.1 L1719.0,2337.2 L1721.0,2337.2 L1723.0,2337.2 L1725.0,2337.2 L1727.0,2337.2 L1729.0,2337.2 L1731.0,2337.2 L1733.0,2337.2 L1735.0,2337.2 L1737.0,2337.2 L1739.0,2337.2 L1741.0,2337.2 L1743.0,2337.2 L1745.0,2337.2 L1747.0,2337.2 L1749.0,2337.2 L1751.0,2337.2 L1753.0,2337.2 L1755.0,2337.2 L1757.0,2337.2 L1759.0,2337.1 L1761.0,2337.1 L1763.0,2337.1 L1765.0,2337.1 L1767.0,2337.1 L1769.0,2337.1 L1771.0,2337.1 L1773.0,2337.0 L1775.0,2337.0 L1777.0,2337.0 L1779.0,2337.0 L1781.0,2337.0 L1783.0,2336.9 L1785.0,2336.9 L1787.0,2336.9" fill="none" stroke="#ff0000" stroke-width="7.5" stroke-linejoin="round" stroke-linecap="butt"/>
<path d="M193.0,2636.8 L195.0,2636.8 L197.0,2636.7 L199.0,2636.7 L201.0,2636.6 L203.0,2636.5 L205.0,2636.4 L207.0,2636.3 L209.0,2636.2 L211.0,2636.1 L213.0,2636.0 L215.0,2635.9 L217.0,2635.7 L219.0,2635.6 L221.0,2635.5 L223.0,2635.3 L225.0,2635.2 L227.0,2635.1 L229.0,2634.9 L231.0,2634.8 L233.0,2634.7 L235.0,2634.5 L237.0,2634.4 L239.0,2634.2 L241.0,2634.0 L243.0,2633.8 L245.0,2633.6 L247.0,2633.3 L249.0,2633.1 L251.0,2632.8 L253.0,2632.5 L255.0,2632.2 L257.0,2631.9 L259.0,2631.6 L261.0,2631.2 L263.0,2630.9 L265.0,2630.5 L267.0,2630.0 L269.0,2629.3 L271.0,2628.4 L273.0,2627.4 L275.0,2626.3 L277.0,2625.1 L279.0,2623.9 L281.0,2622.6 L283.0,2621.3 L285.0,2619.7 L287.0,2617.9 L289.0,2615.8 L291.0,2613.7 L293.0,2611.6 L295.0,2609.7 L297.0,2608.0 L299.0,2606.7 L301.0,2605.6 L303.0,2604.6 L305.0,2603.8 L307.0,2603.3 L309.0,2603.0 L311.0,2603.1 L313.0,2603.5 L315.0,2604.2 L317.0,2605.1 L319.0,2606.0 L321.0,2607.0 L323.0,2608.0 L325.0,2608.7 L327.0,2609.3 L329.0,2609.6 L331.0,2609.5 L333.0,2609.0 L335.0,2608.0 L337.0,2606.8 L339.0,2605.2 L341.0,2603.5 L343.0,2601.7 L345.0,2599.8 L347.0,2597.9 L349.0,2596.1 L351.0,2594.1 L353.0,2591.8 L355.0,2589.3 L357.0,2586.8 L359.0,2584.2 L361.0,2581.8 L363.0,2579.7 L365.0,2577.9 L367.0,2576.6 L369.0,2576.0 L371.0,2576.0 L373.0,2576.5 L375.0,2577.2 L377.0,2578.0 L379.0,2578.7 L381.0,2579.2 L383.0,2579.3 L385.0,2579.0 L387.0,2578.3 L389.0,2577.4 L391.0,2576.3 L393.0,2574.8 L395.0,2573.2 L397.0,2571.3 L399.0,2569.3 L401.0,2567.1 L403.0,2564.7 L405.0,2562.1 L407.0,2559.5 L409.0,2555.4 L411.0,2548.2 L413.0,2539.6 L415.0,2531.1 L417.0,2521.8 L419.0,2511.2 L421.0,2498.9 L423.0,2483.7 L425.0,2465.7 L427.0,2445.0 L429.0,2424.5 L431.0,2405.8 L433.0,2389.5 L435.0,2373.4 L437.0,2359.0 L439.0,2348.2 L441.0,2340.3 L443.0,2336.2 L445.0,2333.2 L447.0,2331.8 L449.0,2332.9 L451.0,2336.4 L453.0,2341.4 L455.0,2351.6 L457.0,2366.4 L459.0,2382.9 L461.0,2401.5 L463.0,2420.7 L465.0,2440.7 L467.0,2461.1 L469.0,2478.4 L471.0,2493.2 L473.0,2505.1 L475.0,2515.6 L477.0,2523.4 L479.0,2529.9 L481.0,2535.3 L483.0,2538.4 L485.0,2540.0 L487.0,2541.5 L489.0,2543.0 L491.0,2544.4 L493.0,2545.6 L495.0,2546.7 L497.0,2547.5 L499.0,2548.0 L501.0,2548.1 L503.0,2548.0 L505.0,2547.6 L507.0,2547.1 L509.0,2546.5 L511.0,2545.7 L513.0,2544.8 L515.0,2543.8 L517.0,2542.4 L519.0,2540.6 L521.0,2538.6 L523.0,2536.3 L525.0,2533.8 L527.0,2530.8 L529.0,2527.4 L531.0,2523.8 L533.0,2520.2 L535.0,2516.7 L537.0,2513.4 L539.0,2510.5 L541.0,2507.9 L543.0,2505.5 L545.0,2502.9 L547.0,2499.8 L549.0,2496.1 L551.0,2491.2 L553.0,2485.4 L555.0,2479.2 L557.0,2473.0 L559.0,2467.1 L561.0,2462.0 L563.0,2457.3 L565.0,2452.8 L567.0,2448.4 L569.0,2443.7 L571.0,2438.6 L573.0,2433.0 L575.0,2427.0 L577.0,2420.9 L579.0,2414.6 L581.0,2408.2 L583.0,2401.7 L585.0,2394.7 L587.0,2388.0 L589.0,2382.2 L591.0,2376.8 L593.0,2372.0 L595.0,2368.0 L597.0,2364.7 L599.0,2361.9 L601.0,2360.6 L603.0,2360.6 L605.0,2361.1 L607.0,2362.0 L609.0,2363.3 L611.0,2364.9 L613.0,2366.8 L615.0,2369.0 L617.0,2371.5 L619.0,2374.0 L621.0,2376.7 L623.0,2379.3 L625.0,2382.2 L627.0,2385.4 L629.0,2388.5 L631.0,2391.4 L633.0,2393.7 L635.0,2395.0 L637.0,2394.8 L639.0,2394.0 L641.0,2393.7 L643.0,2394.7 L645.0,2398.1 L647.0,2402.4 L649.0,2405.3 L651.0,2406.2 L653.0,2406.8 L655.0,2407.2 L657.0,2407.6 L659.0,2408.2 L661.0,2408.9 L663.0,2409.7 L665.0,2410.4 L667.0,2411.2 L669.0,2412.1 L671.0,2412.9 L673.0,2413.8 L675.0,2414.7 L677.0,2415.7 L679.0,2416.7 L681.0,2417.7 L683.0,2418.8 L685.0,2419.9 L687.0,2421.0 L689.0,2422.3 L691.0,2423.7 L693.0,2425.2 L695.0,2426.9 L697.0,2429.0 L699.0,2431.6 L701.0,2434.5 L703.0,2437.3 L705.0,2439.9 L707.0,2442.5 L709.0,2445.2 L711.0,2448.2 L713.0,2451.6 L715.0,2455.1 L717.0,2458.4 L719.0,2461.5 L721.0,2464.5 L723.0,2467.5 L725.0,2470.5 L727.0,2473.5 L729.0,2476.5 L731.0,2479.5 L733.0,2482.5 L735.0,2485.5 L737.0,2488.3 L739.0,2491.1 L741.0,2493.9 L743.0,2496.6 L745.0,2499.3 L747.0,2502.1 L749.0,2505.0 L751.0,2507.9 L753.0,2510.6 L755.0,2513.1 L757.0,2515.4 L759.0,2517.5 L761.0,2519.5 L763.0,2521.3 L765.0,2523.0 L767.0,2524.6 L769.0,2526.3 L771.0,2527.8 L773.0,2529.1 L775.0,2530.3 L777.0,2531.1 L779.0,2531.9 L781.0,2532.6 L783.0,2533.2 L785.0,2533.8 L787.0,2534.2 L789.0,2534.4 L791.0,2534.5 L793.0,2534.4 L795.0,2534.2 L797.0,2533.8 L799.0,2533.3 L801.0,2532.7 L803.0,2532.1 L805.0,2531.3 L807.0,2530.5 L809.0,2529.5 L811.0,2528.3 L813.0,2526.9 L815.0,2525.5 L817.0,2524.0 L819.0,2522.4 L821.0,2521.0 L823.0,2519.4 L825.0,2517.8 L827.0,2516.2 L829.0,2514.6 L831.0,2512.9 L833.0,2511.4 L835.0,2509.8 L837.0,2508.3 L839.0,2506.7 L841.0,2505.1 L843.0,2503.3 L845.0,2501.6 L847.0,2499.8 L849.0,2498.0 L851.0,2496.2 L853.0,2494.2 L855.0,2492.3 L857.0,2490.2 L859.0,2488.1 L861.0,2485.9 L863.0,2483.6 L865.0,2481.2 L867.0,2478.7 L869.0,2476.1 L871.0,2473.4 L873.0,2470.3 L875.0,2466.8 L877.0,2463.0 L879.0,2459.0 L881.0,2454.8 L883.0,2450.5 L885.0,2446.1 L887.0,2441.6 L889.0,2437.2 L891.0,2432.9 L893.0,2428.7 L895.0,2424.4 L897.0,2420.0 L899.0,2415.5 L901.0,2411.1 L903.0,2406.6 L905.0,2402.2 L907.0,2397.3 L909.0,2392.3 L911.0,2387.4 L913.0,2383.1 L915.0,2379.6 L917.0,2376.9 L919.0,2374.3 L921.0,2371.9 L923.0,2369.8 L925.0,2368.1 L927.0,2366.7 L929.0,2365.9 L931.0,2365.6 L933.0,2366.0 L935.0,2366.7 L937.0,2367.6 L939.0,2368.7 L941.0,2370.0 L943.0,2371.5 L945.0,2373.1 L947.0,2374.9 L949.0,2376.7 L951.0,2378.6 L953.0,2380.5 L955.0,2382.5 L957.0,2384.7 L959.0,2387.0 L961.0,2389.5 L963.0,2392.1 L965.0,2394.7 L967.0,2397.2 L969.0,2399.6 L971.0,2401.8 L973.0,2404.0 L975.0,2406.3 L977.0,2408.6 L979.0,2410.9 L981.0,2413.1 L983.0,2415.3 L985.0,2417.4 L987.0,2419.4 L989.0,2421.2 L991.0,2422.9 L993.0,2424.3 L995.0,2425.5 L997.0,2426.4 L999.0,2427.0 L1001.0,2427.2 L1003.0,2427.1 L1005.0,2426.7 L1007.0,2425.9 L1009.0,2425.0 L1011.0,2423.7 L1013.0,2422.3 L1015.0,2420.8 L1017.0,2419.1 L1019.0,2417.3 L1021.0,2415.5 L1023.0,2413.7 L1025.0,2411.8 L1027.0,2409.8 L1029.0,2407.6 L1031.0,2405.3 L1033.0,2402.9 L1035.0,2400.5 L1037.0,2397.9 L1039.0,2395.4 L1041.0,2392.8 L1043.0,2390.2 L1045.0,2387.6 L1047.0,2385.0 L1049.0,2382.5 L1051.0,2379.9 L1053.0,2377.4 L1055.0,2374.8 L1057.0,2372.2 L1059.0,2369.6 L1061.0,2367.0 L1063.0,2364.3 L1065.0,2361.7 L1067.0,2359.0 L1069.0,2356.4 L1071.0,2353.8 L1073.0,2351.2 L1075.0,2348.5 L1077.0,2345.9 L1079.0,2343.1 L1081.0,2340.2 L1083.0,2337.3 L1085.0,2334.4 L1087.0,2331.6 L1089.0,2329.1 L1091.0,2326.8 L1093.0,2324.9 L1095.0,2323.4 L1097.0,2322.0 L1099.0,2320.8 L1101.0,2319.7 L1103.0,2318.9 L1105.0,2318.2 L1107.0,2317.7 L1109.0,2317.4 L1111.0,2317.3 L1113.0,2317.4 L1115.0,2317.7 L1117.0,2318.2 L1119.0,2318.9 L1121.0,2319.8 L1123.0,2320.7 L1125.0,2321.9 L1127.0,2323.1 L1129.0,2324.4 L1131.0,2325.8 L1133.0,2327.3 L1135.0,2328.8 L1137.0,2330.4 L1139.0,2332.1 L1141.0,2333.8 L1143.0,2335.7 L1145.0,2337.8 L1147.0,2339.9 L1149.0,2342.2 L1151.0,2344.5 L1153.0,2347.0 L1155.0,2349.5 L1157.0,2352.1 L1159.0,2354.7 L1161.0,2357.3 L1163.0,2360.0 L1165.0,2362.6 L1167.0,2365.2 L1169.0,2367.8 L1171.0,2370.5 L1173.0,2373.2 L1175.0,2375.9 L1177.0,2378.7 L1179.0,2381.5 L1181.0,2384.4 L1183.0,2387.2 L1185.0,2390.1 L1187.0,2392.9 L1189.0,2395.8 L1191.0,2398.7 L1193.0,2401.5 L1195.0,2404.3 L1197.0,2407.1 L1199.0,2409.9 L1201.0,2412.7 L1203.0,2415.5 L1205.0,2418.4 L1207.0,2421.2 L1209.0,2424.0 L1211.0,2426.8 L1213.0,2429.6 L1215.0,2432.4 L1217.0,2435.2 L1219.0,2437.9 L1221.0,2440.6 L1223.0,2443.3 L1225.0,2446.0 L1227.0,2448.7 L1229.0,2451.4 L1231.0,2454.1 L1233.0,2456.7 L1235.0,2459.4 L1237.0,2462.0 L1239.0,2464.6 L1241.0,2467.1 L1243.0,2469.6 L1245.0,2472.1 L1247.0,2474.5 L1249.0,2476.9 L1251.0,2479.3 L1253.0,2481.8 L1255.0,2484.2 L1257.0,2486.5 L1259.0,2488.9 L1261.0,2491.2 L1263.0,2493.4 L1265.0,2495.6 L1267.0,2497.7 L1269.0,2499.7 L1271.0,2501.5 L1273.0,2503.3 L1275.0,2504.9 L1277.0,2506.5 L1279.0,2508.1 L1281.0,2509.6 L1283.0,2511.2 L1285.0,2512.6 L1287.0,2514.1 L1289.0,2515.4 L1291.0,2516.8 L1293.0,2518.1 L1295.0,2519.3 L1297.0,2520.5 L1299.0,2521.6 L1301.0,2522.7 L1303.0,2523.7 L1305.0,2524.7 L1307.0,2525.6 L1309.0,2526.5 L1311.0,2527.3 L1313.0,2528.2 L1315.0,2529.1 L1317.0,2529.9 L1319.0,2530.7 L1321.0,2531.5 L1323.0,2532.3 L1325.0,2533.1 L1327.0,2533.8 L1329.0,2534.5 L1331.0,2535.2 L1333.0,2535.9 L1335.0,2536.5 L1337.0,2537.2 L1339.0,2537.8 L1341.0,2538.4 L1343.0,2538.9 L1345.0,2539.5 L1347.0,2540.1 L1349.0,2540.6 L1351.0,2541.1 L1353.0,2541.7 L1355.0,2542.2 L1357.0,2542.7 L1359.0,2543.2 L1361.0,2543.7 L1363.0,2544.2 L1365.0,2544.7 L1367.0,2545.2 L1369.0,2545.6 L1371.0,2546.1 L1373.0,2546.6 L1375.0,2547.0 L1377.0,2547.5 L1379.0,2548.0 L1381.0,2548.5 L1383.0,2549.0 L1385.0,2549.4 L1387.0,2549.9 L1389.0,2550.4 L1391.0,2550.8 L1393.0,2551.3 L1395.0,2551.8 L1397.0,2552.2 L1399.0,2552.7 L1401.0,2553.1 L1403.0,2553.5 L1405.0,2554.0 L1407.0,2554.4 L1409.0,2554.8 L1411.0,2555.2 L1413.0,2555.6 L1415.0,2555.9 L1417.0,2556.3 L1419.0,2556.7 L1421.0,2557.0 L1423.0,2557.3 L1425.0,2557.6 L1427.0,2557.9 L1429.0,2558.3 L1431.0,2558.6 L1433.0,2558.9 L1435.0,2559.2 L1437.0,2559.6 L1439.0,2559.9 L1441.0,2560.2 L1443.0,2560.5 L1445.0,2560.8 L1447.0,2561.2 L1449.0,2561.5 L1451.0,2561.8 L1453.0,2562.1 L1455.0,2562.4 L1457.0,2562.6 L1459.0,2562.9 L1461.0,2563.2 L1463.0,2563.5 L1465.0,2563.7 L1467.0,2564.0 L1469.0,2564.2 L1471.0,2564.5 L1473.0,2564.7 L1475.0,2564.9 L1477.0,2565.1 L1479.0,2565.3 L1481.0,2565.5 L1483.0,2565.6 L1485.0,2565.8 L1487.0,2565.9 L1489.0,2566.1 L1491.0,2566.2 L1493.0,2566.3 L1495.0,2566.4 L1497.0,2566.4 L1499.0,2566.5 L1501.0,2566.5 L1503.0,2566.5 L1505.0,2566.5 L1507.0,2566.6 L1509.0,2566.6 L1511.0,2566.5 L1513.0,2566.5 L1515.0,2566.5 L1517.0,2566.5 L1519.0,2566.4 L1521.0,2566.4 L1523.0,2566.3 L1525.0,2566.3 L1527.0,2566.2 L1529.0,2566.2 L1531.0,2566.1 L1533.0,2566.0 L1535.0,2566.0 L1537.0,2565.9 L1539.0,2565.8 L1541.0,2565.7 L1543.0,2565.7 L1545.0,2565.6 L1547.0,2565.5 L1549.0,2565.4 L1551.0,2565.4 L1553.0,2565.3 L1555.0,2565.2 L1557.0,2565.2 L1559.0,2565.1 L1561.0,2565.0 L1563.0,2565.0 L1565.0,2564.9 L1567.0,2564.9 L1569.0,2564.8 L1571.0,2564.8 L1573.0,2564.8 L1575.0,2564.7 L1577.0,2564.7 L1579.0,2564.7 L1581.0,2564.7 L1583.0,2564.7 L1585.0,2564.7 L1587.0,2564.8 L1589.0,2564.8 L1591.0,2564.8 L1593.0,2564.9 L1595.0,2564.9 L1597.0,2565.0 L1599.0,2565.1 L1601.0,2565.2 L1603.0,2565.2 L1605.0,2565.3 L1607.0,2565.4 L1609.0,2565.5 L1611.0,2565.6 L1613.0,2565.7 L1615.0,2565.8 L1617.0,2565.9 L1619.0,2566.0 L1621.0,2566.2 L1623.0,2566.3 L1625.0,2566.4 L1627.0,2566.5 L1629.0,2566.6 L1631.0,2566.8 L1633.0,2566.9 L1635.0,2567.0 L1637.0,2567.1 L1639.0,2567.3 L1641.0,2567.4 L1643.0,2567.5 L1645.0,2567.6 L1647.0,2567.7 L1649.0,2567.9 L1651.0,2568.0 L1653.0,2568.1 L1655.0,2568.2 L1657.0,2568.3 L1659.0,2568.4 L1661.0,2568.5 L1663.0,2568.7 L1665.0,2568.8 L1667.0,2568.9 L1669.0,2568.9 L1671.0,2569.0 L1673.0,2569.1 L1675.0,2569.2 L1677.0,2569.3 L1679.0,2569.4 L1681.0,2569.4 L1683.0,2569.5 L1685.0,2569.5 L1687.0,2569.6 L1689.0,2569.6 L1691.0,2569.7 L1693.0,2569.7 L1695.0,2569.8 L1697.0,2569.8 L1699.0,2569.8 L1701.0,2569.9 L1703.0,2569.9 L1705.0,2569.9 L1707.0,2570.0 L1709.0,2570.0 L1711.0,2570.0 L1713.0,2570.0 L1715.0,2570.1 L1717.0,2570.1 L1719.0,2570.1 L1721.0,2570.1 L1723.0,2570.1 L1725.0,2570.1 L1727.0,2570.1 L1729.0,2570.1 L1731.0,2570.1 L1733.0,2570.1 L1735.0,2570.1 L1737.0,2570.1 L1739.0,2570.1 L1741.0,2570.1 L1743.0,2570.1 L1745.0,2570.1 L1747.0,2570.1 L1749.0,2570.1 L1751.0,2570.1 L1753.0,2570.1 L1755.0,2570.0 L1757.0,2570.0 L1759.0,2570.0 L1761.0,2570.0 L1763.0,2570.0 L1765.0,2569.9 L1767.0,2569.9 L1769.0,2569.9 L1771.0,2569.9 L1773.0,2569.8 L1775.0,2569.8 L1777.0,2569.8 L1779.0,2569.7 L1781.0,2569.7 L1783.0,2569.7 L1785.0,2569.6 L1787.0,2569.6" fill="none" stroke="#000000" stroke-width="7.5" stroke-linejoin="round" stroke-linecap="butt"/>
<rect x="193" y="1604.5" width="1594" height="1070.1999999999998" fill="none" stroke="#000" stroke-width="5.8"/>
<line x1="193.0" y1="2674.7" x2="193.0" y2="2707.7" stroke="#000" stroke-width="5.8" stroke-linecap="round"/>
<text x="193.0" y="2784" font-size="75" text-anchor="middle" font-family="'Liberation Sans', Arial, sans-serif">455</text>
<line x1="420.7" y1="2674.7" x2="420.7" y2="2691.7" stroke="#000" stroke-width="5.8" stroke-linecap="round"/>
<line x1="648.4" y1="2674.7" x2="648.4" y2="2707.7" stroke="#000" stroke-width="5.8" stroke-linecap="round"/>
<text x="648.4" y="2784" font-size="75" text-anchor="middle" font-family="'Liberation Sans', Arial, sans-serif">460</text>
<line x1="876.1" y1="2674.7" x2="876.1" y2="2691.7" stroke="#000" stroke-width="5.8" stroke-linecap="round"/>
<line x1="1103.9" y1="2674.7" x2="1103.9" y2="2707.7" stroke="#000" stroke-width="5.8" stroke-linecap="round"/>
<text x="1103.9" y="2784" font-size="75" text-anchor="middle" font-family="'Liberation Sans', Arial, sans-serif">465</text>
<line x1="1331.6" y1="2674.7" x2="1331.6" y2="2691.7" stroke="#000" stroke-width="5.8" stroke-linecap="round"/>
<line x1="1559.3" y1="2674.7" x2="1559.3" y2="2707.7" stroke="#000" stroke-width="5.8" stroke-linecap="round"/>
<text x="1559.3" y="2784" font-size="75" text-anchor="middle" font-family="'Liberation Sans', Arial, sans-serif">470</text>
<line x1="1787.0" y1="2674.7" x2="1787.0" y2="2691.7" stroke="#000" stroke-width="5.8" stroke-linecap="round"/>
<line x1="599.0" y1="2438.8" x2="599.0" y2="2493" stroke="#0000ff" stroke-width="6" stroke-linecap="round"/>
<path d="M599.0,2403.3 L611.8,2447.6000000000004 L607.8,2447.6000000000004 L602.0,2441.2000000000003 L596.0,2441.2000000000003 L590.2,2447.6000000000004 L586.2,2447.6000000000004 Z" fill="#0000ff"/>
<line x1="686.0" y1="2481" x2="686.0" y2="2536.5" stroke="#0000ff" stroke-width="6" stroke-linecap="round"/>
<path d="M686.0,2446.8 L698.8,2489.8 L694.8,2489.8 L689.0,2483.4 L683.0,2483.4 L677.2,2489.8 L673.2,2489.8 Z" fill="#0000ff"/>
<text x="932" y="1504.2" font-size="89.35" text-anchor="middle" font-family="'Liberation Sans', Arial, sans-serif">Photon Energy (eV)</text>
<g transform="translate(902.5,2922.5) scale(1,0.895)"><text x="0" y="0" font-size="89.35" text-anchor="middle" font-family="'Liberation Sans', Arial, sans-serif">Photon Energy (eV)</text></g>
<text transform="translate(96,900.5) scale(1,1.0559) rotate(-90)" x="0" y="0" font-size="81" text-anchor="middle" font-family="'Liberation Sans', Arial, sans-serif">Intensity (arb. units)</text>
<text transform="translate(103.6,2171) scale(1,1.0496) rotate(-90)" x="0" y="0" font-size="81" text-anchor="middle" font-family="'Liberation Sans', Arial, sans-serif">Intensity (arb. units)</text>
<text x="207" y="302.7" font-size="67" font-weight="bold" font-family="'Liberation Sans', Arial, sans-serif">(a) Co L</text>
<text x="455" y="324.7" font-size="39" font-weight="bold" font-family="'Liberation Sans', Arial, sans-serif">3,2</text>
<text x="508" y="302.7" font-size="67" font-weight="bold" font-family="'Liberation Sans', Arial, sans-serif">-edge</text>
<text x="201.5" y="1677.6" font-size="67" font-weight="bold" font-family="'Liberation Sans', Arial, sans-serif">(b) Ti L</text>
<text x="425" y="1699.6" font-size="39" font-weight="bold" font-family="'Liberation Sans', Arial, sans-serif">3,2</text>
<text x="481" y="1677.6" font-size="67" font-weight="bold" font-family="'Liberation Sans', Arial, sans-serif">-edge</text></svg></body></html>
